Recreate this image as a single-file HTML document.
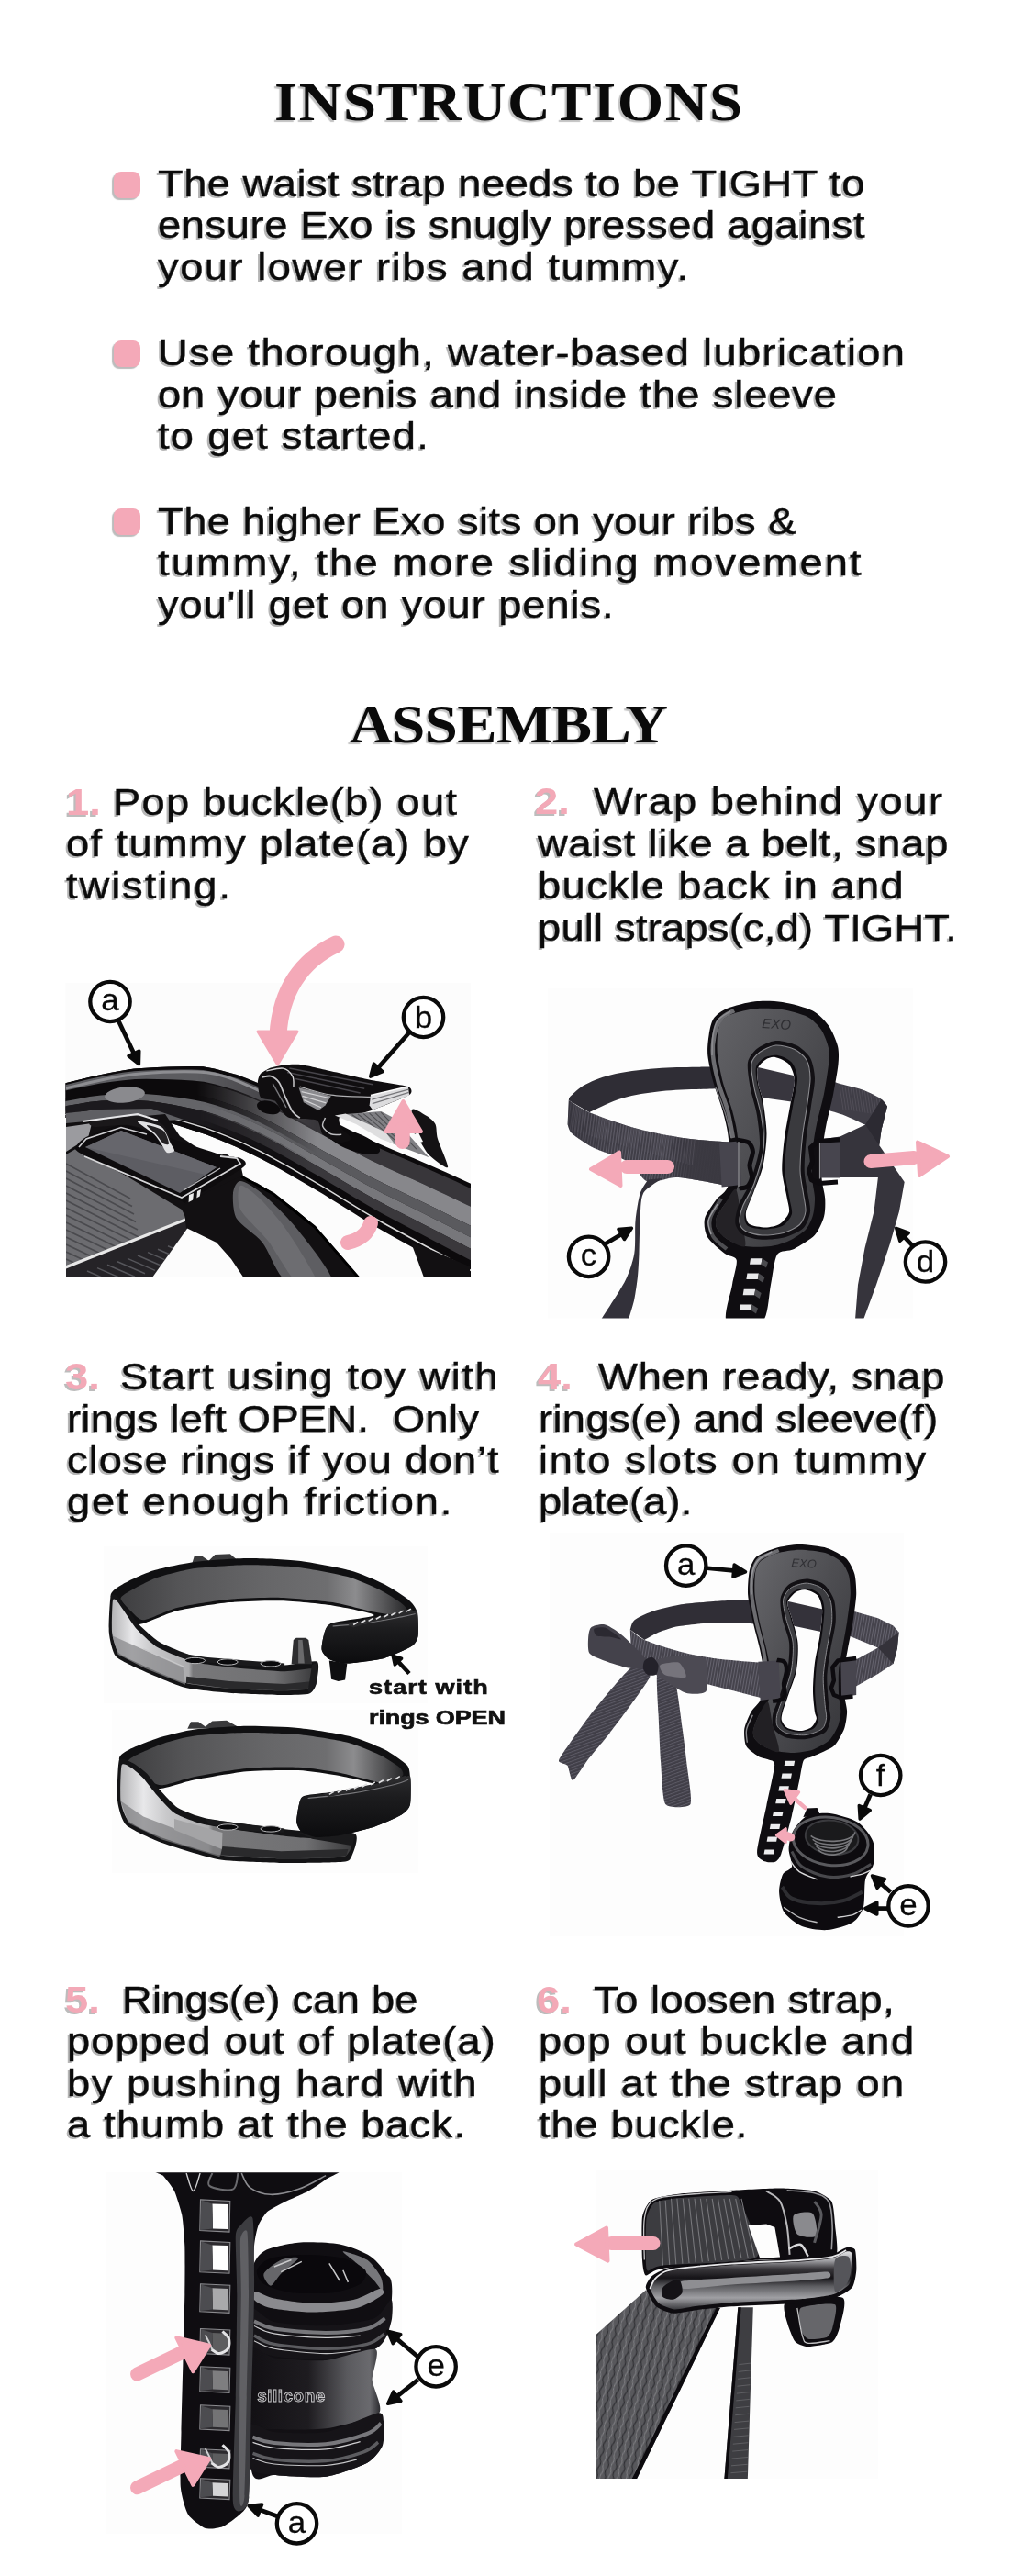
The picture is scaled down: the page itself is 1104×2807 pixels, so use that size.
<!DOCTYPE html>
<html lang="en"><head><meta charset="utf-8"><title>Instructions</title>
<style>
html,body{margin:0;padding:0;background:#fff;}
#pg{will-change:transform;position:relative;width:1104px;height:2807px;overflow:hidden;background:#fff;}
.ln{position:absolute;white-space:pre;line-height:1;transform-origin:0 0;color:#0b0b0b;}
.t{-webkit-text-stroke:0.35px #0b0b0b;font:400 40.5px/1 "Liberation Sans", sans-serif;text-shadow:-2.1px 2.1px 0.6px #b6b6b6;}
.n{font:700 40.5px/1 "Liberation Sans", sans-serif;color:#f3a9b7;text-shadow:-2.1px 2.1px 0.6px #bcbcbc;}
.s{font:700 22.5px/1 "Liberation Sans", sans-serif;color:#111;-webkit-text-stroke:0.7px #111;}
.h{font:700 60px/1 "Liberation Serif", serif;color:#0a0a0a;text-shadow:-2px 2px 1px #c2c2c2;}
.bl{position:absolute;width:29px;height:29px;border-radius:8px;background:#f4a9b8;box-shadow:-2px 2px 1px #bcbcbc;}
svg{position:absolute;left:0;top:0;}
</style></head>
<body><div id="pg">
<svg width="1104" height="2807" viewBox="0 0 1104 2807" font-family='"Liberation Sans", sans-serif'>
<g id="ill1">
<clipPath id="c1t"><path d="M72,1381L204,1329L206,1336L166,1392L72,1392Z"/></clipPath>
<clipPath id="c1s"><path d="M72,1258L86,1250L198,1318L204,1330L72,1381Z"/></clipPath>
<clipPath id="c1"><rect x="71.5" y="1071" width="441.5" height="320.5"/></clipPath>
<rect x="71.5" y="1071" width="441.5" height="320.5" fill="#fcfcfc"/>
<g clip-path="url(#c1)">
<path d="M449,1209C450.7,1206.3 461.6,1213.9 465,1216C468.4,1218.1 472.9,1221.7 474.5,1225C476.1,1228.3 475.2,1234.7 477,1241C478.8,1247.3 489.2,1269.6 488,1272C486.8,1274.4 471.9,1262.6 468,1259C464.1,1255.4 460.6,1248.1 458.5,1245C456.4,1241.9 453.3,1240.8 452,1236C450.7,1231.2 447.3,1211.7 449,1209Z" fill="#141214"/>
<path d="M449,1237L456,1234L461,1244L452,1247Z" fill="#fafafa"/>
<path d="M60,1183L72.2,1180L84.4,1176.9L96.6,1173.9L108.9,1171.2L121.2,1168.8L133.6,1166.4L146,1164.6L158.5,1163.7L171.1,1163.1L183.7,1162.6L196.3,1162.2L208.8,1162L221.3,1162.3L233.7,1164.5L246,1167.7L258.1,1171.1L269.9,1175.4L281.5,1180.2L292.9,1185.4L304.1,1191.1L315.2,1197L326.3,1203.1L337.4,1209L348.5,1214.8L359.8,1220.5L371,1226.1L382.2,1231.8L393.5,1237.3L404.9,1242.7L416.3,1247.8L427.9,1252.7L439.5,1257.5L451.2,1262.2L462.7,1267.2L474.2,1272.2L485.7,1277.3L497.2,1282.5L508.6,1287.7L520,1293L520,1398L508.6,1391.8L497.3,1385.6L486,1379.4L474.6,1373.1L463.3,1366.8L452,1360.6L440.6,1354.3L429.3,1348L418.1,1341.7L406.9,1335.2L395.8,1328.5L384.8,1321.6L373.9,1314.7L362.9,1307.9L351.9,1301.1L340.7,1294.5L329.6,1287.9L318.4,1281.4L307.1,1275L295.8,1268.8L284.4,1262.7L272.8,1256.9L261.1,1251.4L249.2,1246.3L237.3,1241.2L225.2,1236.5L213,1232.4L200.6,1228.4L188.2,1224.6L175.6,1221.1L163,1218.4L150.3,1216.7L137.4,1215.4L124.4,1214.4L111.5,1214L98.6,1214.6L85.8,1216.3L72.9,1217.9L60,1219Z" fill="#0c0a0c"/>
<path d="M60,1184.8L72.2,1181.9L84.5,1178.9L96.7,1175.9L109,1173.4L121.4,1171L133.8,1168.8L146.3,1167.2L158.7,1166.4L171.3,1166L183.9,1165.7L196.5,1165.5L209,1165.5L221.5,1166L233.9,1168.3L246.2,1171.6L258.2,1175.1L270,1179.5L281.7,1184.3L293.1,1189.6L304.3,1195.3L315.4,1201.2L326.4,1207.3L337.5,1213.3L348.7,1219.1L359.9,1224.8L371.1,1230.6L382.4,1236.3L393.6,1241.9L405,1247.3L416.4,1252.5L428,1257.5L439.6,1262.3L451.2,1267.2L462.7,1272.2L474.2,1277.3L485.7,1282.4L497.2,1287.6L508.6,1292.9L520,1298.2L520,1318.2L508.6,1312.7L497.2,1307.2L485.8,1301.8L474.3,1296.4L462.9,1291.1L451.4,1285.8L439.8,1280.7L428.2,1275.6L416.7,1270.3L405.4,1264.9L394.1,1259.2L382.8,1253.3L371.7,1247.4L360.5,1241.4L349.3,1235.5L338.2,1229.6L327.1,1223.4L316,1217.3L304.8,1211.2L293.6,1205.4L282.2,1200L270.6,1195L258.8,1190.4L246.8,1186.5L234.6,1182.9L222.2,1180.1L209.8,1178.9L197.3,1178.1L184.8,1177.5L172.2,1177L159.6,1176.8L147.1,1177.1L134.5,1178.2L122,1179.7L109.5,1181.5L97.1,1183.7L84.7,1186.4L72.4,1189.1L60,1191.6Z" fill="#38363a"/>
<path d="M60,1191.6L72.4,1189.1L84.7,1186.4L97.1,1183.7L109.5,1181.5L122,1179.7L134.5,1178.2L147.1,1177.1L159.6,1176.8L172.2,1177L184.8,1177.5L197.3,1178.1L209.8,1178.9L222.2,1180.1L234.6,1182.9L246.8,1186.5L258.8,1190.4L270.6,1195L282.2,1200L293.6,1205.4L304.8,1211.2L316,1217.3L327.1,1223.4L338.2,1229.6L349.3,1235.5L360.5,1241.4L371.7,1247.4L382.8,1253.3L394.1,1259.2L405.4,1264.9L416.7,1270.3L428.2,1275.6L439.8,1280.7L451.4,1285.8L462.9,1291.1L474.3,1296.4L485.8,1301.8L497.2,1307.2L508.6,1312.7L520,1318.2L520,1339.2L508.6,1333.5L497.2,1327.9L485.8,1322.2L474.4,1316.6L463,1311L451.5,1305.5L440,1300.1L428.5,1294.6L417.1,1289.1L405.8,1283.4L394.5,1277.4L383.4,1271.3L372.2,1265.1L361.1,1258.9L350,1252.8L338.8,1246.6L327.7,1240.4L316.6,1234.2L305.4,1228L294.2,1222.1L282.8,1216.5L271.2,1211.3L259.4,1206.4L247.4,1202.2L235.3,1198.3L223,1195L210.7,1193L198.2,1191.3L185.7,1189.9L173.1,1188.6L160.5,1187.8L147.9,1187.5L135.3,1188L122.6,1188.9L110,1190L97.5,1191.8L85,1194.2L72.5,1196.7L60,1198.8Z" fill="#87878b"/>
<path d="M60,1198.8L72.5,1196.7L85,1194.2L97.5,1191.8L110,1190L122.6,1188.9L135.3,1188L147.9,1187.5L160.5,1187.8L173.1,1188.6L185.7,1189.9L198.2,1191.3L210.7,1193L223,1195L235.3,1198.3L247.4,1202.2L259.4,1206.4L271.2,1211.3L282.8,1216.5L294.2,1222.1L305.4,1228L316.6,1234.2L327.7,1240.4L338.8,1246.6L350,1252.8L361.1,1258.9L372.2,1265.1L383.4,1271.3L394.5,1277.4L405.8,1283.4L417.1,1289.1L428.5,1294.6L440,1300.1L451.5,1305.5L463,1311L474.4,1316.6L485.8,1322.2L497.2,1327.9L508.6,1333.5L520,1339.2L520,1351.8L508.6,1346L497.2,1340.2L485.8,1334.5L474.4,1328.7L463,1323L451.6,1317.3L440.2,1311.7L428.7,1306.1L417.3,1300.4L406,1294.5L394.8,1288.4L383.7,1282.1L372.6,1275.8L361.5,1269.4L350.4,1263.1L339.3,1256.9L328.1,1250.6L317,1244.3L305.8,1238.1L294.5,1232.1L283.1,1226.4L271.5,1221.1L259.8,1216.1L247.8,1211.7L235.7,1207.5L223.5,1203.9L211.2,1201.4L198.7,1199.3L186.2,1197.3L173.6,1195.6L161,1194.3L148.4,1193.8L135.7,1193.8L123,1194.3L110.3,1195.2L97.7,1196.7L85.2,1199L72.6,1201.2L60,1203.2Z" fill="#5a5a5e"/>
<path d="M60,1203.2L72.6,1201.2L85.2,1199L97.7,1196.7L110.3,1195.2L123,1194.3L135.7,1193.8L148.4,1193.8L161,1194.3L173.6,1195.6L186.2,1197.3L198.7,1199.3L211.2,1201.4L223.5,1203.9L235.7,1207.5L247.8,1211.7L259.8,1216.1L271.5,1221.1L283.1,1226.4L294.5,1232.1L305.8,1238.1L317,1244.3L328.1,1250.6L339.3,1256.9L350.4,1263.1L361.5,1269.4L372.6,1275.8L383.7,1282.1L394.8,1288.4L406,1294.5L417.3,1300.4L428.7,1306.1L440.2,1311.7L451.6,1317.3L463,1323L474.4,1328.7L485.8,1334.5L497.2,1340.2L508.6,1346L520,1351.8L520,1364.4L508.6,1358.5L497.3,1352.6L485.9,1346.7L474.5,1340.8L463.1,1334.9L451.7,1329.1L440.3,1323.3L428.9,1317.5L417.5,1311.6L406.2,1305.6L395.1,1299.3L384,1292.9L372.9,1286.4L361.9,1279.9L350.8,1273.5L339.7,1267.2L328.5,1260.8L317.4,1254.4L306.2,1248.1L294.9,1242.1L283.5,1236.3L271.9,1230.9L260.1,1225.7L248.2,1221.1L236.1,1216.7L224,1212.8L211.7,1209.9L199.3,1207.2L186.7,1204.7L174.2,1202.6L161.6,1200.9L148.9,1200L136.2,1199.7L123.4,1199.8L110.7,1200.3L98,1201.6L85.3,1203.7L72.7,1205.8L60,1207.5Z" fill="#77777b"/>
<path d="M60,1207.5L72.7,1205.8L85.3,1203.7L98,1201.6L110.7,1200.3L123.4,1199.8L136.2,1199.7L148.9,1200L161.6,1200.9L174.2,1202.6L186.7,1204.7L199.3,1207.2L211.7,1209.9L224,1212.8L236.1,1216.7L248.2,1221.1L260.1,1225.7L271.9,1230.9L283.5,1236.3L294.9,1242.1L306.2,1248.1L317.4,1254.4L328.5,1260.8L339.7,1267.2L350.8,1273.5L361.9,1279.9L372.9,1286.4L384,1292.9L395.1,1299.3L406.2,1305.6L417.5,1311.6L428.9,1317.5L440.3,1323.3L451.7,1329.1L463.1,1334.9L474.5,1340.8L485.9,1346.7L497.3,1352.6L508.6,1358.5L520,1364.4L520,1377L508.6,1371L497.3,1365L485.9,1358.9L474.5,1352.9L463.2,1346.9L451.8,1340.9L440.4,1334.9L429,1329L417.7,1322.9L406.5,1316.7L395.4,1310.2L384.3,1303.7L373.3,1297L362.3,1290.4L351.2,1283.8L340.1,1277.4L328.9,1271L317.8,1264.5L306.5,1258.2L295.2,1252.1L283.8,1246.2L272.2,1240.6L260.5,1235.4L248.6,1230.5L236.6,1225.9L224.4,1221.7L212.2,1218.3L199.8,1215.2L187.3,1212.2L174.7,1209.5L162.1,1207.5L149.4,1206.3L136.6,1205.6L123.8,1205.3L111,1205.4L98.2,1206.5L85.5,1208.4L72.8,1210.3L60,1211.8Z" fill="#3a383c"/>
<path d="M60,1215.2L72.8,1213.9L85.6,1212.2L98.4,1210.4L111.2,1209.5L124.1,1209.6L137,1210.3L149.8,1211.2L162.5,1212.7L175.1,1215L187.7,1218.1L200.2,1221.5L212.6,1225L224.8,1228.7L236.9,1233.2L248.9,1238L260.8,1243L272.5,1248.4L284.1,1254.1L295.5,1260L306.8,1266.2L318.1,1272.6L329.2,1279L340.4,1285.5L351.5,1292L362.6,1298.7L373.6,1305.4L384.6,1312.2L395.6,1318.9L406.7,1325.5L417.9,1331.8L429.2,1338L440.5,1344.1L451.9,1350.2L463.2,1356.4L474.6,1362.5L485.9,1368.6L497.3,1374.8L508.6,1380.9L520,1387L520,1389.1L508.6,1383L497.3,1376.8L485.9,1370.7L474.6,1364.5L463.3,1358.4L451.9,1352.2L440.6,1346.1L429.2,1339.9L417.9,1333.7L406.7,1327.3L395.6,1320.7L384.6,1314L373.6,1307.2L362.6,1300.4L351.6,1293.8L340.5,1287.2L329.3,1280.7L318.1,1274.2L306.9,1267.9L295.6,1261.7L284.1,1255.7L272.6,1250L260.8,1244.6L249,1239.6L237,1234.7L224.9,1230.2L212.6,1226.4L200.3,1222.8L187.8,1219.3L175.2,1216.2L162.6,1213.8L149.9,1212.3L137.1,1211.3L124.2,1210.6L111.3,1210.4L98.5,1211.2L85.6,1212.9L72.8,1214.7L60,1215.9Z" fill="#d8d8d8"/>
<linearGradient id="g1m" x1="215" y1="0" x2="345" y2="0" gradientUnits="userSpaceOnUse"><stop offset="0" stop-color="#fff"/><stop offset="1" stop-color="#000"/></linearGradient>
<mask id="m1" maskUnits="userSpaceOnUse" x="60" y="1100" width="470" height="320"><rect x="60" y="1100" width="470" height="320" fill="url(#g1m)"/></mask>
<g mask="url(#m1)"><path d="M60,1183L72.2,1180L84.4,1176.9L96.6,1173.9L108.9,1171.2L121.2,1168.8L133.6,1166.4L146,1164.6L158.5,1163.7L171.1,1163.1L183.7,1162.6L196.3,1162.2L208.8,1162L221.3,1162.3L233.7,1164.5L246,1167.7L258.1,1171.1L269.9,1175.4L281.5,1180.2L292.9,1185.4L304.1,1191.1L315.2,1197L326.3,1203.1L337.4,1209L348.5,1214.8L359.8,1220.5L371,1226.1L382.2,1231.8L393.5,1237.3L404.9,1242.7L416.3,1247.8L427.9,1252.7L439.5,1257.5L451.2,1262.2L462.7,1267.2L474.2,1272.2L485.7,1277.3L497.2,1282.5L508.6,1287.7L520,1293L520,1398L508.6,1391.8L497.3,1385.6L486,1379.4L474.6,1373.1L463.3,1366.8L452,1360.6L440.6,1354.3L429.3,1348L418.1,1341.7L406.9,1335.2L395.8,1328.5L384.8,1321.6L373.9,1314.7L362.9,1307.9L351.9,1301.1L340.7,1294.5L329.6,1287.9L318.4,1281.4L307.1,1275L295.8,1268.8L284.4,1262.7L272.8,1256.9L261.1,1251.4L249.2,1246.3L237.3,1241.2L225.2,1236.5L213,1232.4L200.6,1228.4L188.2,1224.6L175.6,1221.1L163,1218.4L150.3,1216.7L137.4,1215.4L124.4,1214.4L111.5,1214L98.6,1214.6L85.8,1216.3L72.9,1217.9L60,1219Z" fill="#0c0a0c"/>
<path d="M60,1184.8L72.2,1181.9L84.5,1178.9L96.7,1175.9L109,1173.4L121.4,1171L133.8,1168.8L146.3,1167.2L158.7,1166.4L171.3,1166L183.9,1165.7L196.5,1165.5L209,1165.5L221.5,1166L233.9,1168.3L246.2,1171.6L258.2,1175.1L270,1179.5L281.7,1184.3L293.1,1189.6L304.3,1195.3L315.4,1201.2L326.4,1207.3L337.5,1213.3L348.7,1219.1L359.9,1224.8L371.1,1230.6L382.4,1236.3L393.6,1241.9L405,1247.3L416.4,1252.5L428,1257.5L439.6,1262.3L451.2,1267.2L462.7,1272.2L474.2,1277.3L485.7,1282.4L497.2,1287.6L508.6,1292.9L520,1298.2L520,1316.1L508.6,1310.6L497.2,1305.2L485.8,1299.8L474.3,1294.4L462.8,1289.1L451.3,1283.9L439.8,1278.8L428.2,1273.7L416.7,1268.4L405.3,1263L394,1257.4L382.8,1251.5L371.6,1245.6L360.4,1239.7L349.3,1233.8L338.1,1227.8L327,1221.7L315.9,1215.6L304.8,1209.5L293.5,1203.7L282.1,1198.4L270.5,1193.3L258.7,1188.7L246.7,1185L234.5,1181.4L222.2,1178.7L209.8,1177.5L197.3,1176.8L184.7,1176.2L172.1,1175.9L159.5,1175.7L147,1176L134.4,1177.2L121.9,1178.8L109.5,1180.6L97.1,1182.9L84.7,1185.6L72.3,1188.3L60,1190.9Z" fill="#5c5c60"/>
<path d="M60,1201.7L72.6,1199.7L85.1,1197.4L97.7,1195.1L110.2,1193.5L122.9,1192.5L135.6,1191.9L148.2,1191.7L160.8,1192.2L173.4,1193.3L186,1194.8L198.6,1196.6L211,1198.6L223.3,1200.9L235.6,1204.4L247.7,1208.5L259.6,1212.9L271.4,1217.8L283,1223.1L294.4,1228.7L305.7,1234.7L316.9,1240.9L328,1247.2L339.1,1253.5L350.3,1259.7L361.4,1265.9L372.5,1272.2L383.6,1278.5L394.7,1284.7L405.9,1290.8L417.2,1296.6L428.6,1302.3L440.1,1307.8L451.6,1313.4L463,1319L474.4,1324.7L485.8,1330.4L497.2,1336.1L508.6,1341.8L520,1347.6L520,1362.3L508.6,1356.4L497.2,1350.5L485.9,1344.7L474.5,1338.8L463.1,1333L451.7,1327.1L440.3,1321.4L428.8,1315.6L417.5,1309.8L406.2,1303.7L395,1297.5L383.9,1291.1L372.9,1284.6L361.8,1278.2L350.7,1271.8L339.6,1265.4L328.5,1259.1L317.3,1252.7L306.1,1246.5L294.8,1240.4L283.4,1234.7L271.8,1229.2L260.1,1224.1L248.1,1219.5L236.1,1215.1L223.9,1211.3L211.6,1208.4L199.2,1205.9L186.7,1203.5L174.1,1201.4L161.5,1199.8L148.8,1199L136.1,1198.8L123.3,1198.9L110.6,1199.5L97.9,1200.8L85.3,1202.9L72.7,1205L60,1206.8Z" fill="#646468"/>
<path d="M60,1206.8L72.7,1205L85.3,1202.9L97.9,1200.8L110.6,1199.5L123.3,1198.9L136.1,1198.8L148.8,1199L161.5,1199.8L174.1,1201.4L186.7,1203.5L199.2,1205.9L211.6,1208.4L223.9,1211.3L236.1,1215.1L248.1,1219.5L260.1,1224.1L271.8,1229.2L283.4,1234.7L294.8,1240.4L306.1,1246.5L317.3,1252.7L328.5,1259.1L339.6,1265.4L350.7,1271.8L361.8,1278.2L372.9,1284.6L383.9,1291.1L395,1297.5L406.2,1303.7L417.5,1309.8L428.8,1315.6L440.3,1321.4L451.7,1327.1L463.1,1333L474.5,1338.8L485.9,1344.7L497.2,1350.5L508.6,1356.4L520,1362.3L520,1385.4L508.6,1379.3L497.3,1373.2L485.9,1367.1L474.6,1361L463.2,1354.9L451.9,1348.8L440.5,1342.7L429.2,1336.6L417.9,1330.4L406.6,1324.1L395.5,1317.5L384.5,1310.8L373.5,1304.1L362.5,1297.4L351.5,1290.7L340.3,1284.2L329.2,1277.8L318,1271.3L306.8,1264.9L295.5,1258.8L284,1252.8L272.5,1247.2L260.7,1241.8L248.9,1236.8L236.9,1232L224.7,1227.6L212.5,1223.9L200.1,1220.5L187.6,1217.1L175.1,1214.2L162.4,1211.9L149.8,1210.5L136.9,1209.5L124.1,1209L111.2,1208.9L98.4,1209.8L85.6,1211.6L72.8,1213.4L60,1214.7Z" fill="#1c1a1e"/>
<path d="M60,1215.2L72.8,1213.9L85.6,1212.2L98.4,1210.4L111.2,1209.5L124.1,1209.6L137,1210.3L149.8,1211.2L162.5,1212.7L175.1,1215L187.7,1218.1L200.2,1221.5L212.6,1225L224.8,1228.7L236.9,1233.2L248.9,1238L260.8,1243L272.5,1248.4L284.1,1254.1L295.5,1260L306.8,1266.2L318.1,1272.6L329.2,1279L340.4,1285.5L351.5,1292L362.6,1298.7L373.6,1305.4L384.6,1312.2L395.6,1318.9L406.7,1325.5L417.9,1331.8L429.2,1338L440.5,1344.1L451.9,1350.2L463.2,1356.4L474.6,1362.5L485.9,1368.6L497.3,1374.8L508.6,1380.9L520,1387L520,1389.1L508.6,1383L497.3,1376.8L485.9,1370.7L474.6,1364.5L463.3,1358.4L451.9,1352.2L440.6,1346.1L429.2,1339.9L417.9,1333.7L406.7,1327.3L395.6,1320.7L384.6,1314L373.6,1307.2L362.6,1300.4L351.6,1293.8L340.5,1287.2L329.3,1280.7L318.1,1274.2L306.9,1267.9L295.6,1261.7L284.1,1255.7L272.6,1250L260.8,1244.6L249,1239.6L237,1234.7L224.9,1230.2L212.6,1226.4L200.3,1222.8L187.8,1219.3L175.2,1216.2L162.6,1213.8L149.9,1212.3L137.1,1211.3L124.2,1210.6L111.3,1210.4L98.5,1211.2L85.6,1212.9L72.8,1214.7L60,1215.9Z" fill="#d8d8d8"/></g>
<path d="M72,1186C78.3,1184.5 96.5,1179.7 110,1177C123.5,1174.3 135.5,1171.5 153,1170C170.5,1168.5 198.7,1167.2 215,1168C231.3,1168.8 238.5,1171 251,1175C263.5,1179 283.5,1189.2 290,1192" fill="none" stroke="#8d8d91" stroke-width="3"/>
<ellipse cx="136" cy="1193" rx="22" ry="8.5" fill="#8a8a8e" transform="rotate(-6 136 1193)"/>
<path d="M72,1213L110,1209L165,1208L200,1220L72,1226Z" fill="#5f5f63"/>
<path d="M72,1224L180,1214L196,1238L232,1262L246,1257L262,1268L266,1286L200,1330L72,1300Z" fill="#121012"/>
<path d="M72,1228L100,1224L96,1240L72,1255Z" fill="#9b9b9f"/>
<path d="M72,1258L86,1250L198,1318L204,1330L72,1381Z" fill="#6c6c70"/>
<path d="M72,1268 L142,1306M72,1276 L144,1314.5M72,1284 L146,1323M72,1292 L148,1331.5M72,1300 L150,1340M72,1308 L152,1348.5M72,1316 L154,1357M72,1324 L156,1365.5M72,1332 L158,1374M72,1340 L160,1382.5M72,1348 L162,1391M72,1356 L164,1399.5M72,1364 L166,1408M72,1372 L168,1416.5" stroke="#4a4a4e" stroke-width="1.6" fill="none" clip-path="url(#c1s)"/>
<path d="M72,1381L204,1329L206,1336L166,1392L72,1392Z" fill="#252327"/>
<path d="M72,1379L203,1327L204,1330L72,1382.5Z" fill="#e8e8e8"/>
<path d="M95,1385 L125,1398M106,1381.6 L136,1394.6M117,1378.2 L147,1391.2M128,1374.8 L158,1387.8M139,1371.4 L169,1384.4M150,1368 L180,1381M161,1364.6 L191,1377.6M172,1361.2 L202,1374.2M183,1357.8 L213,1370.8" stroke="#55555a" stroke-width="1.5" fill="none" clip-path="url(#c1t)"/>
<path d="M84,1248C84.7,1245.7 90.4,1240.6 96,1238C101.6,1235.4 124.5,1226.7 132,1226C139.5,1225.3 147.4,1228.3 160,1232C172.6,1235.7 228.1,1254.5 240,1258C251.9,1261.5 259.1,1260.4 262,1262C264.9,1263.6 271.6,1266.6 265,1272C258.4,1277.4 213.1,1303.8 205,1308C196.9,1312.2 209.4,1313.8 196,1308C182.6,1302.2 103.1,1265 90,1258C76.9,1251 83.3,1250.3 84,1248Z" fill="#0e0c0e"/>
<path d="M93,1250L132,1232L236,1272L196,1300Z" fill="#5d5d63"/>
<path d="M93,1250L132,1232L236,1272L224,1280Z" fill="#66666c"/>
<path d="M86,1250L94,1241L132,1228.5L160,1236" fill="none" stroke="#cfcfd2" stroke-width="1.6"/>
<path d="M92,1260L198,1305L262,1268L258,1262L240,1260" fill="none" stroke="#d6d6d8" stroke-width="1.8"/>
<path d="M200,1297L240,1273" fill="none" stroke="#bdbdc0" stroke-width="1.4"/>
<path d="M100,1222C106.1,1220.4 139.6,1215.5 150,1216C160.4,1216.5 173.2,1222 178,1226C182.8,1230 186,1242.8 186,1246C186,1249.2 180.8,1251.6 178,1250C175.2,1248.4 170.1,1237.2 165,1234C159.9,1230.8 148.1,1226.8 140,1226C131.9,1225.2 109.3,1228.5 104,1228C98.7,1227.5 93.9,1223.6 100,1222Z" fill="#1a181a"/>
<path d="M90,1222L150,1214L172,1221" fill="none" stroke="#e6e6e8" stroke-width="2.2"/>
<path d="M150,1222C151.1,1220.9 171.2,1224.8 176,1228C180.8,1231.2 184.1,1242.5 186,1246C187.9,1249.5 190.5,1252.7 190,1254C189.5,1255.3 183.9,1256.9 182,1256C180.1,1255.1 177.9,1249.7 176,1247C174.1,1244.3 171.5,1239.3 168,1236C164.5,1232.7 148.9,1223.1 150,1222Z" fill="#e2e2e4"/>
<path d="M160,1226C161.1,1225.5 174.8,1229.3 178,1232C181.2,1234.7 184,1244.1 184,1246C184,1247.9 179.9,1247.3 178,1246C176.1,1244.7 172.4,1238.7 170,1236C167.6,1233.3 158.9,1226.5 160,1226Z" fill="#242224"/>
<path d="M206,1302L211,1300L209,1318L205,1320Z" fill="#ededed"/>
<path d="M215,1298L219,1296L217,1308L214,1309Z" fill="#e4e4e4"/>
<path d="M200,1313L230,1297L262,1282L280,1289L298,1300L322,1318L343,1336L368,1364L395,1396L268,1396L252,1372L236,1354L203,1338Z" fill="#121012"/>
<path d="M262,1287C266.1,1287 277,1293.3 285,1300C293,1306.7 311.7,1324.2 322,1337C332.3,1349.8 363.3,1388.1 362,1396C360.7,1403.9 322.1,1401.6 312,1396C301.9,1390.4 293.2,1363.1 286,1354C278.8,1344.9 262.3,1335.2 258,1328C253.7,1320.8 253.5,1305.5 254,1300C254.5,1294.5 257.9,1287 262,1287Z" fill="#5e5e62"/>
<path d="M262,1292C264.8,1290.4 276.3,1299.6 283,1306C289.7,1312.4 303.7,1328 312,1340C320.3,1352 343.7,1388.5 345,1396C346.3,1403.5 329.1,1401.9 322,1396C314.9,1390.1 300,1362.4 292,1352C284,1341.6 266,1326 262,1318C258,1310 259.2,1293.6 262,1292Z" fill="#6d6d71"/>
<path d="M263,1282L298,1301L343,1337L394,1396" fill="none" stroke="#000" stroke-width="3"/>
<path d="M448,1354L462,1392L512,1392L512,1380L470,1362Z" fill="#121012"/>
<ellipse cx="385.8" cy="1244.2" rx="30" ry="10" fill="#0c0a0c" transform="rotate(20 385.8 1244.2)"/>
<ellipse cx="292.7" cy="1206.8" rx="13" ry="7" fill="#0c0a0c" transform="rotate(15 292.7 1206.8)"/>
<path d="M280.9,1179.5C280.9,1177 282.2,1172 283.6,1170.4C285,1168.8 292.3,1164.6 295,1163.6C297.7,1162.6 307.5,1160.6 310.9,1160.2C314.3,1159.9 323.6,1159.4 329,1160.2C334.5,1161 357.6,1166.5 365.4,1168.2C373.1,1169.9 398.3,1175.7 406.2,1177.2C414.2,1178.8 440.8,1182.5 444.8,1184.1C448.8,1185.6 450.1,1190.6 446.2,1193.1C442.3,1195.7 412.1,1207.3 406.2,1209.5C400.4,1211.6 391.7,1213.9 388.1,1214.7C384.4,1215.6 371.5,1216.6 369.9,1218.1C368.3,1219.6 370.8,1227.2 372.2,1229.5C373.5,1231.7 383.8,1239.2 383.5,1240.8C383.3,1242.4 373.1,1245.8 369.9,1245.4C366.7,1244.9 354.2,1238.7 351.7,1236.3C349.3,1233.8 349,1222.7 345.4,1220.8C341.8,1219 319.3,1219.3 315.4,1218.1C311.5,1217 307.9,1211.4 306.3,1209.5C304.7,1207.6 301.7,1200.9 299.5,1199.5C297.3,1198.1 285.9,1197.9 284.1,1195.9C282.2,1193.9 280.9,1182.1 280.9,1179.5Z" fill="#100e10"/>
<path d="M376.7,1214L415.3,1210.9L428.9,1218.1L467.5,1261.3L428.9,1246.5L397.2,1229.5Z" fill="#808084"/>
<path d="M383.5,1214.5 L415.3,1236.3M389.9,1214 L423,1239.5M396.2,1213.6 L430.8,1242.6M402.6,1213.1 L438.5,1245.8M409,1212.7 L446.2,1249M415.3,1212.2 L453.9,1252.2" fill="none" stroke="#4e4e52" stroke-width="1.1"/>
<path d="M364.9,1215.4L376.7,1213.6L419.9,1233.6L430.1,1246.5L415.3,1241.3L388.1,1224.9Z" fill="#dededf"/>
<path d="M325.6,1185.2L338.1,1188.1L360.8,1194.5L354.5,1204.5L347.2,1209.9L330.9,1201.3Z" fill="#8b8b8f"/>
<path d="M328.6,1189.7L358.6,1196.5M329.5,1194.3L355.4,1201.8M331.3,1198.6L349.9,1206.8" fill="none" stroke="#d4d4d6" stroke-width="1.2"/>
<path d="M315.4,1164.1L406.2,1181.8M313.1,1168.6L397.2,1186.3M322.2,1175.4L392.6,1190.9" fill="none" stroke="#46444a" stroke-width="1.5"/>
<path d="M326.8,1184.1C332.4,1185.6 348,1191.3 360.8,1193.1C373.7,1195 396.8,1195 404,1195.4" fill="none" stroke="#b0b0b3" stroke-width="1.2"/>
<path d="M285.9,1173.8C287.4,1173.7 291.9,1171.8 295,1172.7C298,1173.7 301.4,1175.7 304.1,1179.5C306.7,1183.3 308.4,1190.1 310.9,1195.4C313.3,1200.7 316.2,1207.5 318.8,1211.3C321.5,1215.1 325.4,1217 326.8,1218.1" fill="none" stroke="#c4c4c7" stroke-width="1.8"/>
<path d="M290.4,1167C293.5,1166.5 303.9,1163.1 308.6,1164.1C313.3,1165 316.9,1169.4 318.8,1172.7C320.7,1176 319.8,1182.2 320,1184.1" fill="none" stroke="#d5d5d7" stroke-width="1.4"/>
<path d="M297.2,1180.7C298.4,1182.7 301.6,1188.8 304.1,1193.1C306.5,1197.5 310.7,1204.5 312,1206.8" fill="none" stroke="#77777b" stroke-width="1.4"/>
<path d="M404,1193.6L444.8,1184.1L446.2,1193.6L406.2,1209.5L402.6,1204.5Z" fill="#dcdcde"/>
<path d="M405.3,1198.1L445.3,1187.2M405.8,1202.7L445.7,1190.4" fill="none" stroke="#77777b" stroke-width="1.3"/>
<path d="M404,1193.6L444.8,1184.1" fill="none" stroke="#fafafa" stroke-width="1.5"/>
<path d="M354.5,1218.1C354,1219.6 350.7,1224.3 351.7,1227.2C352.8,1230.2 357.4,1234.3 360.8,1235.8C364.2,1237.3 370.3,1236.2 372.2,1236.3" fill="none" stroke="#bcbcbf" stroke-width="1.5"/>
</g>
<path d="M366,1029 C330,1046 306,1078 303,1128" fill="none" stroke="#f4a9b8" stroke-width="19" stroke-linecap="round"/>
<path d="M281,1124L324,1124L302.5,1160Z" fill="#f4a9b8" stroke="#f4a9b8" stroke-width="3" stroke-linejoin="round"/>
<path d="M439.5,1200L459,1233L420.5,1233Z" fill="#f4a9b8" stroke="#f4a9b8" stroke-width="4" stroke-linejoin="round"/>
<path d="M438.7,1230 L438.7,1244" fill="none" stroke="#f4a9b8" stroke-width="16" stroke-linecap="round"/>
<path d="M404,1333 C401,1344 392,1351 379,1354" fill="none" stroke="#f4a9b8" stroke-width="16" stroke-linecap="round"/>
<path d="M129,1112 L146.8,1149.8" stroke="#0a0a0a" stroke-width="4.7" fill="none"/><path d="M151.4,1159.7L140,1150.7L151.8,1145.2Z" fill="#0a0a0a" stroke="#0a0a0a" stroke-width="3.5" stroke-linejoin="round"/>
<circle cx="120" cy="1091.5" r="21.7" fill="#fff" stroke="#0a0a0a" stroke-width="4.3"/><text transform="translate(120,1101.4) scale(1.06,1)" font-size="33" text-anchor="middle" fill="#0a0a0a" stroke="#0a0a0a" stroke-width="0.25">a</text>
<path d="M447,1124 L410.9,1164.9" stroke="#0a0a0a" stroke-width="4.7" fill="none"/><path d="M403.7,1173.1L407.4,1159.1L417.1,1167.7Z" fill="#0a0a0a" stroke="#0a0a0a" stroke-width="3.5" stroke-linejoin="round"/>
<circle cx="461.5" cy="1108.5" r="21.7" fill="#fff" stroke="#0a0a0a" stroke-width="4.3"/><text transform="translate(461.5,1119.9) scale(1.06,1)" font-size="33" text-anchor="middle" fill="#0a0a0a" stroke="#0a0a0a" stroke-width="0.25">b</text>
</g>
<g id="ill2">
<clipPath id="c2h"><path d="M825.5,1164.8C826.5,1161.2 831.7,1156.4 834.3,1154.7C836.9,1153 841.4,1151.3 844.8,1152C848.2,1152.7 857.1,1156.3 859.9,1159.7C862.7,1163.1 865.9,1171.2 866,1177.3C866.1,1183.4 862.5,1197 861,1205.4C859.5,1213.8 856.1,1231.1 854.9,1240.5C853.7,1249.9 852,1267.2 852.3,1275.6C852.6,1284 856.4,1297.6 857.4,1303.7C858.4,1309.8 860.9,1317 859.9,1321C858.9,1325 853.2,1331.6 849.8,1333.8C846.4,1336 838.7,1337.5 834.3,1337.5C829.9,1337.5 819.3,1336 816.5,1333.8C813.7,1331.6 812.3,1325.7 813,1321C813.7,1316.3 819,1305.4 821.5,1298.7C824,1292 829.6,1279 831.5,1270.6C833.4,1262.2 835.5,1244.9 835.5,1235.5C835.5,1226.1 832.7,1207.1 831.5,1200C830.3,1192.9 827.3,1186.7 826.5,1182C825.7,1177.3 824.5,1168.4 825.5,1164.8Z"/></clipPath>
<clipPath id="c2r"><path d="M900.5,1175.3C902.2,1176 907.7,1178.6 913,1180.3C918.4,1182 934.2,1185.5 940.6,1187.8C947,1190.2 957.2,1195.5 960.7,1197.9C964.2,1200.2 966.1,1204.4 966.9,1205.4L960.7,1230.5C958.3,1229.8 948.5,1227.5 943.1,1225.5C937.8,1223.4 926.2,1217.6 920.5,1215.4C914.9,1213.2 903.2,1210 900.5,1209.2Z"/></clipPath>
<clipPath id="c2f"><path d="M619.8,1199C623,1200.8 633.4,1208.5 643.6,1212.7C653.8,1216.9 682.6,1226.6 696.3,1230.3C710,1234 732.7,1238.3 746.5,1240.3C760.3,1242.3 792.9,1244.4 800,1245L800,1294C796.2,1293.2 780,1289.5 771.5,1288C763,1286.5 745.1,1283 736.4,1283C727.7,1283 712.5,1289.7 706.3,1288C700.1,1286.3 693.7,1273.3 690,1270C686.3,1266.7 684.6,1265.5 678.7,1262.9C672.8,1260.3 653.3,1254 646,1250.3C638.7,1246.6 627.3,1238.6 623.6,1235.3C619.9,1232 619.3,1226.6 618.6,1225.3Z"/></clipPath>
<clipPath id="c2"><rect x="597" y="1077" width="398" height="359.5"/></clipPath>
<rect x="597" y="1077" width="398" height="359.5" fill="#fdfdfd"/>
<linearGradient id="g2b" x1="0" y1="0" x2="1" y2="0"><stop offset="0" stop-color="#3a3840"/><stop offset=".5" stop-color="#4b4952"/><stop offset="1" stop-color="#35333b"/></linearGradient>
<linearGradient id="g2p" x1="0" y1="0" x2="1" y2="1"><stop offset="0" stop-color="#636367"/><stop offset=".5" stop-color="#4c4c50"/><stop offset="1" stop-color="#343438"/></linearGradient>
<pattern id="p2r" width="3" height="8" patternUnits="userSpaceOnUse" patternTransform="rotate(8)"><rect width="3" height="8" fill="#403e47"/><rect width="1" height="8" fill="#5d5b66"/></pattern>
<g clip-path="url(#c2)">
<path d="M790,1162C786.9,1162.1 782.9,1162.3 771.5,1162.6C760.1,1162.9 738.1,1162.6 721.4,1163.8C704.7,1165 685,1167.1 671.2,1170C657.4,1172.9 646.8,1177.4 638.6,1181.4C630.5,1185.4 625.4,1191.1 622.3,1194C619.2,1196.9 620.2,1198.2 619.8,1199L643.6,1212.7C644,1212.3 640.1,1212.9 646,1210.2C651.9,1207.5 666.1,1199.9 678.7,1196.4C691.3,1192.9 705.1,1190.7 721.4,1189C737.7,1187.3 765.1,1186.9 776.5,1186.4C787.9,1185.9 787.8,1186.1 790,1186Z" fill="#2f2d35"/>
<path d="M619.8,1199C623,1200.8 633.4,1208.5 643.6,1212.7C653.8,1216.9 682.6,1226.6 696.3,1230.3C710,1234 732.7,1238.3 746.5,1240.3C760.3,1242.3 792.9,1244.4 800,1245L800,1294C796.2,1293.2 780,1289.5 771.5,1288C763,1286.5 745.1,1283 736.4,1283C727.7,1283 712.5,1289.7 706.3,1288C700.1,1286.3 693.7,1273.3 690,1270C686.3,1266.7 684.6,1265.5 678.7,1262.9C672.8,1260.3 653.3,1254 646,1250.3C638.7,1246.6 627.3,1238.6 623.6,1235.3C619.9,1232 619.3,1226.6 618.6,1225.3Z" fill="url(#p2r)"/>
<linearGradient id="g2s" x1="619" y1="0" x2="800" y2="0" gradientUnits="userSpaceOnUse"><stop offset="0" stop-color="#2c2a32" stop-opacity=".5"/><stop offset=".25" stop-color="#2c2a32" stop-opacity="0"/><stop offset=".6" stop-color="#2c2a32" stop-opacity="0"/><stop offset=".75" stop-color="#3a3840" stop-opacity=".9"/><stop offset="1" stop-color="#3a3840" stop-opacity="1"/></linearGradient>
<path d="M619.8,1199C623,1200.8 633.4,1208.5 643.6,1212.7C653.8,1216.9 682.6,1226.6 696.3,1230.3C710,1234 732.7,1238.3 746.5,1240.3C760.3,1242.3 792.9,1244.4 800,1245L800,1294C796.2,1293.2 780,1289.5 771.5,1288C763,1286.5 745.1,1283 736.4,1283C727.7,1283 712.5,1289.7 706.3,1288C700.1,1286.3 693.7,1273.3 690,1270C686.3,1266.7 684.6,1265.5 678.7,1262.9C672.8,1260.3 653.3,1254 646,1250.3C638.7,1246.6 627.3,1238.6 623.6,1235.3C619.9,1232 619.3,1226.6 618.6,1225.3Z" fill="url(#g2s)"/>
<path d="M626,1204 l-3,28M629.2,1204.9 l-3,28M632.4,1205.9 l-3,28M635.6,1206.8 l-3,28M638.8,1207.7 l-3,28M642,1208.7 l-3,28M645.2,1209.6 l-3,28M648.4,1210.5 l-3,28M651.6,1211.4 l-3,28M654.8,1212.4 l-3,28M658,1213.3 l-3,28M661.2,1214.2 l-3,28M664.4,1215.2 l-3,28M667.6,1216.1 l-3,28M670.8,1217 l-3,28M674,1218 l-3,28M677.2,1218.9 l-3,28M680.4,1219.8 l-3,28M683.6,1220.7 l-3,28M686.8,1221.7 l-3,28M690,1222.6 l-3,28M693.2,1223.5 l-3,28M696.4,1224.5 l-3,28M699.6,1225.4 l-3,28M702.8,1226.3 l-3,28M706,1227.2 l-3,28M709.2,1228.2 l-3,28M712.4,1229.1 l-3,28M715.6,1230 l-3,28M718.8,1231 l-3,28M722,1231.9 l-3,28M725.2,1232.8 l-3,28M728.4,1233.8 l-3,28M731.6,1234.7 l-3,28M734.8,1235.6 l-3,28M738,1236.5 l-3,28M741.2,1237.5 l-3,28M744.4,1238.4 l-3,28M747.6,1239.3 l-3,28M750.8,1240.3 l-3,28M754,1241.2 l-3,28M757.2,1242.1 l-3,28" stroke="#5b5963" stroke-width="1" fill="none" opacity=".6" clip-path="url(#c2f)"/>
<path d="M706.3,1285.4C705.1,1287.4 699.4,1294.5 697.6,1300.5C695.8,1306.5 693.3,1321.9 692.5,1330.6C691.7,1339.3 692.8,1357 691.3,1365.7C689.8,1374.4 686.1,1386.2 681.3,1395.8C676.5,1405.4 658.5,1432.4 655,1438L685,1438C685.8,1435 690,1422.1 691.3,1415.8C692.6,1409.5 694.3,1397.5 695,1390.8C695.7,1384.1 696.2,1373.7 696.5,1365.7C696.8,1357.7 697,1339.3 697.6,1330.6C698.2,1321.9 697.7,1306.7 701,1300.5C704.3,1294.3 719.2,1286.2 722,1284Z" fill="#33313a"/>
<path d="M900.5,1175.3C902.2,1176 907.7,1178.6 913,1180.3C918.4,1182 934.2,1185.5 940.6,1187.8C947,1190.2 957.2,1195.5 960.7,1197.9C964.2,1200.2 966.1,1204.4 966.9,1205.4L960.7,1230.5C958.3,1229.8 948.5,1227.5 943.1,1225.5C937.8,1223.4 926.2,1217.6 920.5,1215.4C914.9,1213.2 903.2,1210 900.5,1209.2Z" fill="#403e47"/>
<path d="M915,1183 l4,26M918,1183.5 l4,26M921,1183.9 l4,26M924,1184.3 l4,26M927,1184.8 l4,26M930,1185.2 l4,26M933,1185.7 l4,26M936,1186.2 l4,26M939,1186.6 l4,26M942,1187 l4,26M945,1187.5 l4,26M948,1188 l4,26M951,1188.4 l4,26M954,1188.8 l4,26M957,1189.3 l4,26" stroke="#5b5963" stroke-width="1" fill="none" opacity=".6" clip-path="url(#c2r)"/>
<path d="M966.9,1205.4L960.7,1230.5L958.2,1248L985.7,1288.1L980,1320L970,1355L955,1400L941,1438L932,1438L935,1400L942.5,1360L952.5,1320L956.9,1283.1L915.5,1283.1L893,1283.1L893,1241.8L915.5,1238.5L943.1,1225.5L960.7,1197.9Z" fill="#36343c"/>
<path d="M966.9,1205.4L960.7,1230.5L958.2,1248L943.1,1225.5L960.7,1197.9Z" fill="#2c2a32"/>
<path d="M772.6,1127.7C773.4,1122.4 774.9,1113.9 777.6,1110C780.3,1106.1 786.7,1101.3 792.7,1098.8C798.7,1096.3 814.7,1092.2 822.7,1091.3C830.7,1090.4 844.4,1090.7 852.8,1092C861.2,1093.3 878.7,1097.9 885.4,1101.3C892.1,1104.7 899.3,1112.4 903,1117.6C906.7,1122.8 911.6,1134.3 913,1140C914.4,1145.7 914.2,1152.9 913.5,1160C912.8,1167.1 909.7,1184.2 908,1192.9C906.3,1201.6 902,1217.8 900.5,1225.5C899,1233.2 897.4,1242.8 896.7,1250.5C896,1258.2 895.2,1275.6 895.5,1283C895.8,1290.4 898.9,1300 899.2,1305.7C899.5,1311.4 899.5,1320.5 898,1325.8C896.5,1331.1 892.3,1341.1 888,1345.8C883.7,1350.5 870.9,1358.1 865.4,1360.9C859.9,1363.7 850.4,1361.8 847,1367C843.6,1372.2 842.1,1390.3 840,1400C837.9,1409.7 837.4,1434.7 831,1440C824.6,1445.3 796.4,1445.3 792,1440C787.6,1434.7 796.6,1408.9 798,1400C799.4,1391.1 803.8,1377.5 802.7,1373C801.6,1368.5 794.2,1369.3 790,1366C785.8,1362.7 773.9,1353.1 771,1348C768.1,1342.9 766.8,1333.3 768,1328C769.2,1322.7 776.5,1313 780,1308C783.5,1303 792.1,1299.6 794,1290.6C795.9,1281.6 794.8,1251.2 793.9,1240.5C793,1229.8 789.8,1218.5 787.6,1210.4C785.4,1202.3 779.8,1188.1 777.6,1180C775.4,1171.9 772,1157 771.3,1150C770.6,1143 771.8,1133 772.6,1127.7Z" fill="#0f0d11"/>
<path d="M782,1128C782.5,1123.1 783.9,1116.1 786,1113C788.1,1109.9 792.9,1106.9 798,1105C803.1,1103.1 816.8,1099.7 824,1099C831.2,1098.3 844.5,1098.8 852,1100C859.5,1101.2 874.3,1105.1 880,1108C885.7,1110.9 891.9,1117.5 895,1122C898.1,1126.5 901.9,1136.9 903,1142C904.1,1147.1 903.7,1153.3 903,1160C902.3,1166.7 899.7,1183.3 898,1192C896.3,1200.7 891.6,1217.3 890,1225C888.4,1232.7 886.7,1242.3 886,1250C885.3,1257.7 884.7,1275.7 885,1283C885.3,1290.3 887.9,1299.5 888,1305C888.1,1310.5 887.3,1319.3 886,1324C884.7,1328.7 881.5,1336.3 878,1340C874.5,1343.7 865.1,1349.6 860,1352C854.9,1354.4 846.4,1357.2 840,1358C833.6,1358.8 818.4,1359.1 812,1358C805.6,1356.9 796.1,1352.7 792,1350C787.9,1347.3 782.5,1341.2 781,1338C779.5,1334.8 779.8,1329.5 781,1326C782.2,1322.5 786.9,1316.5 790,1312C793.1,1307.5 802.1,1301.6 804,1292C805.9,1282.4 804.8,1250.9 804,1240C803.2,1229.1 800.1,1218 798,1210C795.9,1202 790.1,1188 788,1180C785.9,1172 782.8,1156.9 782,1150C781.2,1143.1 781.5,1132.9 782,1128Z" fill="url(#g2p)"/>
<path d="M781,1326C782.2,1322.5 787.2,1316 790,1312C792.8,1308 799.6,1293.6 802,1296C804.4,1298.4 806.7,1321.7 808,1330C809.3,1338.3 814.1,1355.3 812,1358C809.9,1360.7 796.1,1352.7 792,1350C787.9,1347.3 782.5,1341.2 781,1338C779.5,1334.8 779.8,1329.5 781,1326Z" fill="#242226"/>
<path d="M800,1101C797.7,1102.5 789.6,1105.5 786,1110C782.4,1114.5 780,1121.3 778.5,1128C777,1134.7 776.2,1141.3 777,1150C777.8,1158.7 780.3,1170 783,1180C785.7,1190 790.3,1200 793,1210C795.7,1220 798,1235 799,1240" fill="none" stroke="#6c6c70" stroke-width="4.5"/>
<path d="M786,1306C784,1309.7 775.5,1321.2 774,1328C772.5,1334.8 774,1341.5 777,1347C780,1352.5 789.5,1358.7 792,1361" fill="none" stroke="#4e4e52" stroke-width="4"/>
<path d="M776,1150C776.2,1146.3 776,1134.3 777,1128C778,1121.7 778.8,1116.3 782,1112C785.2,1107.7 793.7,1103.7 796,1102" fill="none" stroke="#8c8c90" stroke-width="1.6"/>
<path d="M780,1185C781.7,1189.5 787.2,1202.8 790,1212C792.8,1221.2 795.8,1235.3 797,1240" fill="none" stroke="#77777b" stroke-width="1.4"/>
<path d="M775,1345C774.5,1342.5 770.8,1335.5 772,1330C773.2,1324.5 780.3,1315 782,1312" fill="none" stroke="#9a9a9e" stroke-width="1.5"/>
<path d="M815,1157.7C816,1152 821,1145.9 825,1142.7C829,1139.5 839.6,1134.5 845.3,1134C851,1133.5 863,1136.5 868,1139C873,1141.5 880.3,1147.9 883,1152.7C885.7,1157.5 887.9,1168.3 888,1175.3C888.1,1182.3 885.2,1196.6 884,1205C882.8,1213.4 880,1228.6 879,1238C878,1247.4 876.5,1267.2 876.7,1275.6C876.9,1284 879.6,1294.7 880.4,1300.7C881.2,1306.7 883.7,1315.7 883,1320.7C882.3,1325.7 879.1,1334.6 875.4,1338.3C871.7,1342 861.3,1346.6 855.3,1348.3C849.3,1350 836.3,1351.1 830.3,1350.8C824.3,1350.5 813.9,1348.1 810,1345.8C806.1,1343.5 802.1,1337.7 801.4,1333.3C800.7,1328.9 802.8,1319 805,1313C807.2,1307 814.7,1296.3 817.7,1288C820.7,1279.7 826.8,1260.2 827.8,1250.5C828.8,1240.8 826.3,1224.1 825,1215.4C823.7,1206.7 819,1193 817.7,1185.3C816.4,1177.6 814,1163.4 815,1157.7Z" fill="#121014"/>
<path d="M819,1159C819.8,1153.8 824.5,1149.2 828,1146.5C831.5,1143.8 840.4,1139.4 845.5,1139C850.6,1138.6 861.5,1141.4 866,1143.5C870.5,1145.6 876.7,1150.8 879,1155C881.3,1159.2 882.9,1168.6 883,1175.3C883.1,1182 880.6,1196.6 879.5,1205C878.4,1213.4 875.5,1228.6 874.5,1238C873.5,1247.4 871.9,1267.2 872,1275.6C872.1,1284 874.7,1294.8 875.5,1300.7C876.3,1306.6 878.5,1315.5 878,1320C877.5,1324.5 874.7,1331.4 871.5,1334.5C868.3,1337.6 859.5,1342 854,1343.5C848.5,1345 836,1346.3 830.5,1346C825,1345.7 815.8,1343.4 812.5,1341.5C809.2,1339.6 806.4,1335.6 806,1332C805.6,1328.4 807.4,1320.2 809.5,1314.5C811.6,1308.8 819,1298 822,1289.5C825,1281 831.3,1260.4 832.3,1250.5C833.3,1240.6 830.9,1224.1 829.5,1215.4C828.1,1206.7 823.4,1192.8 822,1185.3C820.6,1177.8 818.2,1164.2 819,1159Z" fill="#3a3a3e"/>
<path d="M819,1159C819.8,1153.8 824.5,1149.2 828,1146.5C831.5,1143.8 840.4,1139.4 845.5,1139C850.6,1138.6 861.5,1141.4 866,1143.5C870.5,1145.6 876.7,1150.8 879,1155C881.3,1159.2 882.9,1168.6 883,1175.3C883.1,1182 880.6,1196.6 879.5,1205C878.4,1213.4 875.5,1228.6 874.5,1238C873.5,1247.4 871.9,1267.2 872,1275.6C872.1,1284 874.7,1294.8 875.5,1300.7C876.3,1306.6 878.5,1315.5 878,1320C877.5,1324.5 874.7,1331.4 871.5,1334.5C868.3,1337.6 859.5,1342 854,1343.5C848.5,1345 836,1346.3 830.5,1346C825,1345.7 815.8,1343.4 812.5,1341.5C809.2,1339.6 806.4,1335.6 806,1332C805.6,1328.4 807.4,1320.2 809.5,1314.5C811.6,1308.8 819,1298 822,1289.5C825,1281 831.3,1260.4 832.3,1250.5C833.3,1240.6 830.9,1224.1 829.5,1215.4C828.1,1206.7 823.4,1192.8 822,1185.3C820.6,1177.8 818.2,1164.2 819,1159Z" fill="none" stroke="#8a8a8e" stroke-width="1.1"/>
<path d="M824,1162.8C825,1159.2 829.6,1154.4 832.8,1152.7C836,1151 843.8,1149.3 847.8,1150C851.8,1150.7 860.1,1154.3 862.9,1157.7C865.7,1161.1 868.9,1168.9 869,1175.3C869.1,1181.7 865.5,1196.7 864,1205.4C862.5,1214.1 859.1,1231.1 857.9,1240.5C856.7,1249.9 855,1266.9 855.3,1275.6C855.6,1284.3 859.4,1299.4 860.4,1305.7C861.4,1312 863.9,1319 862.9,1323C861.9,1327 856.8,1333.6 852.8,1335.8C848.8,1338 837.8,1339.5 832.8,1339.5C827.8,1339.5 817.8,1338 815,1335.8C812.2,1333.6 810.8,1327.7 811.5,1323C812.2,1318.3 817.5,1307.7 820,1300.7C822.5,1293.7 828.1,1279.3 830,1270.6C831.9,1261.9 834,1244.9 834,1235.5C834,1226.1 831.2,1207.4 830,1200C828.8,1192.6 825.8,1185 825,1180C824.2,1175 823,1166.4 824,1162.8Z" fill="#0c0a0e"/>
<path d="M825.5,1164.8C826.5,1161.2 831.7,1156.4 834.3,1154.7C836.9,1153 841.4,1151.3 844.8,1152C848.2,1152.7 857.1,1156.3 859.9,1159.7C862.7,1163.1 865.9,1171.2 866,1177.3C866.1,1183.4 862.5,1197 861,1205.4C859.5,1213.8 856.1,1231.1 854.9,1240.5C853.7,1249.9 852,1267.2 852.3,1275.6C852.6,1284 856.4,1297.6 857.4,1303.7C858.4,1309.8 860.9,1317 859.9,1321C858.9,1325 853.2,1331.6 849.8,1333.8C846.4,1336 838.7,1337.5 834.3,1337.5C829.9,1337.5 819.3,1336 816.5,1333.8C813.7,1331.6 812.3,1325.7 813,1321C813.7,1316.3 819,1305.4 821.5,1298.7C824,1292 829.6,1279 831.5,1270.6C833.4,1262.2 835.5,1244.9 835.5,1235.5C835.5,1226.1 832.7,1207.1 831.5,1200C830.3,1192.9 827.3,1186.7 826.5,1182C825.7,1177.3 824.5,1168.4 825.5,1164.8Z" fill="#fdfdfd"/>
<g clip-path="url(#c2h)"><path d="M820.2,1161.5L870.4,1173.3L870.4,1201.6L822.7,1194.9Z" fill="#38363e"/></g>
<text x="846" y="1121" font-size="15" font-style="italic" text-anchor="middle" fill="#2e2e32" transform="rotate(4 846 1118)">EXO</text>
<path d="M784,1245.3L806,1243.5L808,1291L786.6,1293.5Z" fill="#47454e"/>
<path d="M803,1242C804.7,1242.4 813.7,1243.3 816,1245C818.3,1246.7 820.4,1251.7 820.5,1255C820.6,1258.3 817.1,1266.3 817,1270C816.9,1273.7 819.8,1279.9 819.5,1283C819.2,1286.1 816.4,1291.4 814.5,1293C812.6,1294.6 806.7,1294.7 805.5,1295" fill="none" stroke="#0d0b0f" stroke-width="5"/>
<path d="M805,1244L805,1293" fill="none" stroke="#8f8f93" stroke-width="1.2"/>
<path d="M894.2,1245L915.5,1244.5L915.5,1283.6L894.2,1283.6Z" fill="#47454e"/>
<path d="M915.5,1241.8L891.7,1243.5L883.4,1250.5L885.4,1265.6L881.7,1275.6L884.2,1285.6L893,1289.4L913,1288.1" fill="none" stroke="#0d0b0f" stroke-width="5" stroke-linejoin="round"/>
<path d="M893.5,1245.5L893.5,1284.4" fill="none" stroke="#8f8f93" stroke-width="1.2"/>
<path d="M818,1371.3L830.5,1371.3L829.5,1377.7L817,1377.7Z" fill="#e9e9eb"/>
<path d="M830.5,1371.3L837,1375.5L835,1381.5L829.5,1377.7Z" fill="#4a4a4e"/>
<path d="M814.4,1387.5L826.9,1387.5L825.9,1393.9L813.4,1393.9Z" fill="#e9e9eb"/>
<path d="M826.9,1387.5L833.4,1391.7L831.4,1397.7L825.9,1393.9Z" fill="#4a4a4e"/>
<path d="M810.7,1404.8L823.2,1404.8L822.2,1411.2L809.7,1411.2Z" fill="#e9e9eb"/>
<path d="M823.2,1404.8L829.7,1409L827.7,1415L822.2,1411.2Z" fill="#4a4a4e"/>
<path d="M807,1421.4L819.5,1421.4L818.5,1427.8L806,1427.8Z" fill="#e9e9eb"/>
<path d="M819.5,1421.4L826,1425.6L824,1431.6L818.5,1427.8Z" fill="#4a4a4e"/>
</g>
<path d="M683,1271.5 L727.5,1271.5" fill="none" stroke="#f4a9b8" stroke-width="15" stroke-linecap="round"/>
<path d="M644,1274L675,1255.5L676.5,1292Z" fill="#f4a9b8" stroke="#f4a9b8" stroke-width="4" stroke-linejoin="round"/>
<path d="M949,1265.5 L996,1261.5" fill="none" stroke="#f4a9b8" stroke-width="15" stroke-linecap="round"/>
<path d="M1033,1260L1000,1244.5L1002,1281Z" fill="#f4a9b8" stroke="#f4a9b8" stroke-width="4" stroke-linejoin="round"/>
<path d="M657,1357 L678.9,1343.9" stroke="#0a0a0a" stroke-width="4.7" fill="none"/><path d="M688.4,1338.3L680.5,1350.5L673.9,1339.4Z" fill="#0a0a0a" stroke="#0a0a0a" stroke-width="3.5" stroke-linejoin="round"/>
<circle cx="641.6" cy="1369.4" r="21.7" fill="#fff" stroke="#0a0a0a" stroke-width="4.3"/><text transform="translate(641.6,1379.3) scale(1.06,1)" font-size="33" text-anchor="middle" fill="#0a0a0a" stroke="#0a0a0a" stroke-width="0.25">c</text>
<path d="M996,1359 L984.2,1346.4" stroke="#0a0a0a" stroke-width="4.7" fill="none"/><path d="M976.7,1338.3L990.3,1343.4L980.8,1352.3Z" fill="#0a0a0a" stroke="#0a0a0a" stroke-width="3.5" stroke-linejoin="round"/>
<circle cx="1008.5" cy="1375" r="21.7" fill="#fff" stroke="#0a0a0a" stroke-width="4.3"/><text transform="translate(1008.5,1386.4) scale(1.06,1)" font-size="33" text-anchor="middle" fill="#0a0a0a" stroke="#0a0a0a" stroke-width="0.25">d</text>
</g>
<g id="ill3">
<rect x="113" y="1685" width="353" height="171" fill="#fdfdfd"/><rect x="122" y="1863" width="334" height="178" fill="#fdfdfd"/>
<linearGradient id="g3w" x1="0" y1="0" x2="1" y2="0"><stop offset="0" stop-color="#3e3e40"/><stop offset=".2" stop-color="#545456"/><stop offset=".5" stop-color="#666668"/><stop offset=".72" stop-color="#6e6e70"/><stop offset=".82" stop-color="#8c8c8e"/><stop offset=".93" stop-color="#505052"/><stop offset="1" stop-color="#262628"/></linearGradient>
<linearGradient id="g3f" x1="0" y1="0" x2="1" y2="0"><stop offset="0" stop-color="#b4b4b6"/><stop offset=".1" stop-color="#e8e8ea"/><stop offset=".2" stop-color="#c8c8ca"/><stop offset=".38" stop-color="#aaaaac"/><stop offset=".4" stop-color="#78787a"/><stop offset=".8" stop-color="#707072"/><stop offset="1" stop-color="#3a3a3c"/></linearGradient>
<linearGradient id="g3r" x1="0" y1="0" x2="0" y2="1"><stop offset="0" stop-color="#2c2c2e"/><stop offset=".35" stop-color="#1c1c1e"/><stop offset="1" stop-color="#0c0c0e"/></linearGradient>
<path d="M209.5,1703L211.8,1695.5L220,1695.5L227.5,1700.8L234.3,1694L250.8,1693.3L260.5,1701.5Z" fill="#3a3a3c"/>
<path d="M120.6,1739.4C119.8,1734.5 128.3,1729.5 133.8,1726.3C139.2,1723 158.3,1714.1 167.5,1711.3C176.7,1708.4 200.7,1703.4 212.5,1701.9C224.3,1700.4 255.7,1698.3 268.8,1698.1C281.9,1698 311.9,1699.2 325.1,1700.8C338.2,1702.3 370.4,1708.3 381.3,1711.3C392.3,1714.2 411.4,1722.5 418.8,1726.3C426.3,1730 440.9,1739.6 445.1,1743.1C449.2,1746.6 453.2,1751.7 454.5,1756.3C455.7,1760.9 456.2,1778.2 455.6,1782.5C454.9,1786.9 453.1,1790.9 448.8,1793.8C444.5,1796.6 427.1,1804.7 418.8,1806.9C410.5,1809.1 384.6,1812.4 377.6,1812.5C370.6,1812.7 362,1809.8 358.8,1808C355.7,1806.3 351.1,1801.2 350.6,1797.5C350,1793.9 352.9,1780.3 354.3,1776.9C355.7,1773.5 356.4,1770.2 362.6,1768.3C368.8,1766.3 407.6,1762.2 407.6,1760C407.6,1757.8 374.4,1751.4 362.6,1749.5C350.8,1747.7 319.4,1744.7 306.3,1744.3C293.2,1743.9 263.2,1744.9 250,1746.1C236.9,1747.4 204.7,1752.5 193.8,1755.1C182.8,1757.8 162.4,1767.5 156.3,1769C150.1,1770.6 145.4,1771.7 141.3,1768.3C137.1,1764.8 121.5,1744.3 120.6,1739.4Z" fill="#101012"/>
<path d="M131.5,1742C131.4,1739.3 138,1735.7 142.8,1733C147.5,1730.3 163.9,1721.6 172,1718.8C180.2,1716 201.2,1710.6 212.5,1709C223.8,1707.4 255.7,1705.4 268.8,1705.3C281.9,1705.1 312.2,1706.4 325.1,1707.9C337.9,1709.4 368.4,1715.2 378.7,1718C389,1720.9 406.8,1728.9 413.6,1732.3C420.4,1735.6 433.3,1743.9 436.8,1746.5C440.3,1749.1 444.4,1753.3 443.6,1754.8C442.8,1756.3 434.3,1759.1 430.1,1759.3C425.9,1759.5 415.5,1758.2 407.6,1756.6C399.7,1755.1 374.4,1748 362.6,1746.1C350.8,1744.3 319.4,1741.3 306.3,1740.9C293.2,1740.5 263.2,1741.5 250,1742.8C236.9,1744 204.6,1749.1 193.8,1751.8C182.9,1754.4 162.9,1764.7 157,1765.3C151.2,1765.8 146.5,1759 143.5,1756.3C140.5,1753.6 131.6,1744.7 131.5,1742Z" fill="url(#g3w)"/>
<path d="M362.6,1769.4C367.1,1768.3 392.6,1766.7 400.1,1765.6C407.6,1764.6 432.1,1759.9 437.6,1758.9C443,1757.9 452.7,1753.2 454.5,1755.5C456.3,1757.9 456.2,1778.7 455.6,1782.5C455,1786.4 452.5,1791.3 448.8,1793.8C445.2,1796.2 426,1805 418.8,1806.9C411.7,1808.8 383.6,1812.4 377.6,1812.5C371.6,1812.6 361.5,1809.5 358.8,1808C356.1,1806.5 351,1800.6 350.6,1797.5C350.1,1794.4 353.1,1779.7 354.3,1776.9C355.5,1774.1 358,1770.5 362.6,1769.4Z" fill="url(#g3r)"/>
<path d="M362.6,1772C368.8,1771.4 387.6,1770 400.1,1768.3C412.6,1766.6 428.8,1763.5 437.6,1761.9C446.3,1760.3 450.1,1759.1 452.6,1758.5" fill="none" stroke="#77777a" stroke-width="1.2"/>
<path d="M379.4,1770.5L400.1,1763.8L426.3,1759.3L448.8,1753.3L450.7,1757L430.1,1762.3L403.8,1767.5L385.1,1773.5Z" fill="#2a2a2c"/>
<path d="M385.1,1770.5 l5,-3M393.3,1768.5 l5,-3M401.6,1766.4 l5,-3M409.8,1764.3 l5,-3M418.1,1762.3 l5,-3M426.3,1760.2 l5,-3M434.6,1758.1 l5,-3M442.8,1756.1 l5,-3" fill="none" stroke="#e0e0e2" stroke-width="1.6"/>
<path d="M358.8,1809.5L378.3,1812.5L376.1,1830.5L368.6,1832L361.1,1829.8Z" fill="#0e0e10"/>
<path d="M120.6,1739.4C121.6,1735.5 126.1,1737.7 128.1,1739.4C130.2,1741.1 138.8,1753.1 141.3,1756.3C143.7,1759.5 149.1,1767.9 152.5,1771.3C155.9,1774.7 169,1786.7 175,1790C181,1793.4 204.3,1803 212.5,1805C220.8,1807.1 247.8,1809.7 257.5,1810.7C267.3,1811.6 301.2,1814.4 310.1,1814.4C318.9,1814.4 342.2,1808.6 345.7,1810.7C349.1,1812.7 345.4,1831.6 344.6,1835C343.7,1838.5 340.9,1844.3 337.1,1845.5C333.2,1846.7 315,1847.1 306.3,1847C297.6,1847 260.5,1845.6 250,1844.8C239.5,1844 210.7,1841.2 201.3,1838.8C191.9,1836.4 163.8,1824.2 156.3,1820.8C148.8,1817.4 130,1809.2 126.3,1805C122.5,1800.8 119.3,1785.3 118.8,1778.8C118.2,1772.2 119.7,1743.3 120.6,1739.4Z" fill="#141416"/>
<path d="M122.9,1744.3C123.4,1740.9 126.2,1743.4 127.8,1745C129.3,1746.6 136.1,1756.9 138.3,1760C140.4,1763.1 146.1,1772.3 149.5,1775.8C152.9,1779.3 165.9,1791.8 172,1795.3C178.2,1798.8 202.5,1808.8 211,1811C219.6,1813.2 247.6,1816.4 257.5,1817.4C267.4,1818.4 301.7,1821.1 310.1,1821.2C318.5,1821.3 338.5,1817.4 341.6,1818.5C344.6,1819.7 341.1,1830.6 340.4,1832.8C339.8,1835 338.2,1839.7 334.8,1840.7C331.4,1841.6 314.8,1842.2 306.3,1842.2C297.8,1842.1 260.4,1840.7 250,1839.9C239.7,1839.1 211.9,1836.3 202.8,1833.9C193.6,1831.5 165.8,1819.2 158.5,1815.9C151.2,1812.6 133.3,1805 129.6,1801.3C126,1797.6 122.8,1784.5 122.1,1778.8C121.5,1773.1 122.3,1747.6 122.9,1744.3Z" fill="url(#g3f)"/>
<path d="M122.5,1782.5L156.3,1797.5L199.4,1817L202,1835.8L157.8,1817.8L128.5,1802.8Z" fill="#8a8a8c" opacity=".75"/>
<path d="M156.3,1796.8L200.5,1816.3" fill="none" stroke="#c8c8ca" stroke-width="1.2"/>
<path d="M203.2,1826.8L250,1832L310.1,1835L341.9,1832L340.4,1832.8L334.8,1840.7L306.3,1842.2L250,1839.9L202.8,1833.9Z" fill="#2a2a2c"/>
<path d="M195.6,1801.3L223.8,1805.8L268.8,1809.5L310.1,1812.5L310.1,1817L265,1814.8L220,1811L193.8,1805Z" fill="#1a1a1c"/>
<ellipse cx="212.5" cy="1809.5" rx="11" ry="3.2" fill="#0a0a0c" stroke="#b8b8ba" stroke-width="1"/>
<ellipse cx="248.2" cy="1811" rx="11" ry="3.2" fill="#0a0a0c" stroke="#b8b8ba" stroke-width="1"/>
<ellipse cx="295" cy="1812.8" rx="11" ry="3.2" fill="#0a0a0c" stroke="#b8b8ba" stroke-width="1"/>
<path d="M319.8,1787L322.8,1784.8L333.3,1784.8L336.3,1787L340.1,1813.3L317.6,1813.3Z" fill="#2e2e30"/>
<path d="M325.1,1787L329.6,1787L331.8,1812.5L325.1,1812.5Z" fill="#6a6a6c"/>
<path d="M340.1,1814L345.7,1811.8L344.6,1835L337.8,1844.8L335.6,1842.5Z" fill="#1c1c1e"/>
<path d="M204.3,1883.8L208,1876.3L216.3,1876.3L223.8,1881.5L231.3,1875.5L247,1874.8L262,1883Z" fill="#3a3a3c"/>
<path d="M130,1917.5C128.7,1913.1 136,1909.1 141.3,1906.3C146.5,1903.4 166.7,1895.7 175,1893.1C183.3,1890.6 201.6,1886 212.5,1884.5C223.5,1883.1 255.7,1880.9 268.8,1880.8C281.9,1880.6 311.9,1881.7 325.1,1883C338.2,1884.3 370.4,1889.3 381.3,1892C392.3,1894.7 411.6,1902.6 418.8,1906.3C426.1,1909.9 439.9,1919.6 443.2,1923.1C446.5,1926.6 446.5,1931.2 447,1936.3C447.4,1941.3 448.1,1961.5 447,1966.3C445.9,1971.1 442.2,1974.7 437.6,1977.5C433,1980.4 415.5,1988 407.6,1990.7C399.7,1993.3 377.5,1998.7 370.1,2000C362.6,2001.4 348.6,2002.4 343.8,2001.9C339,2001.5 331.2,1998.3 328.8,1996.3C326.4,1994.3 323.4,1989 323.2,1985C323,1981.1 325.6,1965.9 326.9,1962.5C328.2,1959.2 327.7,1957.6 334.4,1956.2C341.2,1954.8 376.1,1951.8 385.1,1950.5C394,1949.3 413.1,1947.1 411.3,1945.3C409.6,1943.5 380.1,1937 370.1,1935.1C360,1933.3 336.9,1929.7 325.1,1929.1C313.2,1928.6 281.9,1929.1 268.8,1930.3C255.7,1931.5 223.5,1937.1 212.5,1939.3C201.6,1941.5 182,1948.4 175,1949C168,1949.6 157.8,1948.2 152.5,1944.5C147.3,1940.8 131.3,1922 130,1917.5Z" fill="#101012"/>
<path d="M139.8,1920.5C138.7,1917.7 144.3,1914.7 148.8,1912.3C153.2,1909.9 170.6,1902.3 178,1899.9C185.5,1897.5 201.9,1893 212.5,1891.6C223.1,1890.2 255.7,1888.1 268.8,1887.9C281.9,1887.7 312.2,1888.9 325.1,1890.1C337.9,1891.4 368.4,1896.2 378.7,1898.8C389,1901.3 407,1909.1 413.6,1912.3C420.2,1915.4 432.4,1923.2 435.3,1925.8C438.3,1928.4 440.2,1932.4 439.1,1934.4C437.9,1936.4 428.8,1942.1 425.6,1943C422.3,1943.9 417.8,1943.2 411.3,1941.9C404.9,1940.6 380.1,1933.7 370.1,1931.8C360,1929.9 336.9,1926.3 325.1,1925.8C313.2,1925.2 281.9,1925.7 268.8,1926.9C255.7,1928.1 223.4,1933.8 212.5,1935.9C201.7,1938 182.2,1945.2 175.8,1945.3C169.4,1945.3 162,1939.2 157.8,1936.3C153.6,1933.4 140.8,1923.3 139.8,1920.5Z" fill="url(#g3w)"/>
<path d="M130,1917.5C131.7,1913.4 142,1919.8 145,1921.3C148,1922.8 157,1929.5 160,1932.5C163,1935.5 171.6,1947.5 175,1951.3C178.4,1955 188.9,1967 193.8,1970C198.6,1973 215.2,1979.3 223.8,1981.3C232.4,1983.2 269.9,1988.2 280,1989.5C290.2,1990.9 314.4,1993.9 325.1,1994.8C335.7,1995.6 381.3,1995 386.9,1998.2C392.6,2001.3 383.8,2023.2 381.3,2026.3C378.9,2029.4 370.1,2028.9 362.6,2029.3C355.1,2029.7 318.7,2030.3 306.3,2030C293.9,2029.7 251.9,2028.5 238.8,2026.3C225.7,2024 185.1,2011.3 175,2007.5C164.9,2003.8 142.2,1993.3 137.5,1988.8C132.8,1984.3 128.9,1969.7 128.1,1962.5C127.4,1955.4 128.3,1921.6 130,1917.5Z" fill="#141416"/>
<path d="M132.6,1923.5C133.8,1919.9 141.1,1925.1 143.5,1926.5C145.9,1927.9 153.5,1934.8 156.3,1937.8C159,1940.8 167.8,1952.7 171.3,1956.5C174.7,1960.4 185.7,1972.9 190.8,1976C195.9,1979.2 213.4,1985.9 222.3,1988C231.2,1990.1 269.8,1995.6 280,1997C290.3,1998.5 314.9,2001.4 325.1,2002.3C335.3,2003.2 376.8,2003.7 382.1,2005.7C387.3,2007.6 379.5,2019.9 377.6,2021.8C375.6,2023.7 369.7,2024.1 362.6,2024.4C355.4,2024.8 318.5,2025.5 306.3,2025.2C294.1,2024.9 253.2,2023.7 240.3,2021.4C227.4,2019.2 187.2,2006.3 177.3,2002.7C167.3,1999 145.5,1989 140.9,1985C136.3,1981 132.3,1968.7 131.5,1962.5C130.7,1956.4 131.4,1927.1 132.6,1923.5Z" fill="url(#g3f)"/>
<path d="M131.5,1962.5L156.3,1979.4L190,1992.5L241.8,2006.8L239.5,2023.3L176.5,2004.5L139.8,1986.5Z" fill="#7e7e80" opacity=".7"/>
<path d="M190,1982L242.5,1997L241.8,2015L190,1994Z" fill="#a4a4a6"/>
<path d="M223.8,1982L276.3,1988.8L310.1,1992.5L310.1,1997L265,1994.8L227.5,1988Z" fill="#1a1a1c"/>
<ellipse cx="248.2" cy="1991" rx="11" ry="3.2" fill="#0a0a0c" stroke="#b8b8ba" stroke-width="1"/>
<ellipse cx="295" cy="1992.9" rx="11" ry="3.2" fill="#0a0a0c" stroke="#b8b8ba" stroke-width="1"/>
<path d="M242.5,2012L306.3,2017.3L379.4,2015L377.6,2021.8L362.6,2024.4L306.3,2025.2L240.3,2021.4Z" fill="#2a2a2c"/>
<path d="M325.1,1997L386.9,1998.5L384.3,2011.3L362.6,2007.5L340.1,2003.8Z" fill="#1a1a1c"/>
<path d="M334.4,1956.9C340.2,1955.8 375.5,1952.8 385.1,1951.3C394.6,1949.8 423.9,1943.5 430.1,1941.9C436.3,1940.3 445.3,1933.1 447,1935.5C448.6,1938 447.9,1962.1 447,1966.3C446,1970.5 441.5,1975.1 437.6,1977.5C433.6,1980 414.3,1988.4 407.6,1990.7C400.8,1992.9 376.4,1998.9 370.1,2000C363.7,2001.2 347.9,2002.3 343.8,2001.9C339.7,2001.5 330.9,1998 328.8,1996.3C326.7,1994.6 323.4,1988.4 323.2,1985C323,1981.7 325.8,1965.3 326.9,1962.5C328.1,1959.7 328.6,1958 334.4,1956.9Z" fill="url(#g3r)"/>
<path d="M335.6,1959.5C343.8,1958.6 369.3,1956.4 385.1,1953.9C400.8,1951.4 420.1,1947 430.1,1944.5C440.1,1942.1 442.6,1940.1 445.1,1939.3" fill="none" stroke="#77777a" stroke-width="1.2"/>
<path d="M351.3,1955L385.1,1948.3L418.8,1941.9L442.1,1934.8L443.6,1938.5L422.6,1944.5L388.8,1951.3L358.8,1958Z" fill="#2a2a2c"/>
<path d="M358.8,1955.4 l5,-3M367.8,1953.3 l5,-3M376.8,1951.2 l5,-3M385.8,1949.1 l5,-3M394.8,1947 l5,-3M403.8,1944.9 l5,-3M412.8,1942.8 l5,-3M421.8,1940.7 l5,-3M430.8,1938.6 l5,-3" fill="none" stroke="#e0e0e2" stroke-width="1.6"/>
<path d="M446,1823.5 L432.6,1809.1" stroke="#0a0a0a" stroke-width="4.5" fill="none"/><path d="M428.2,1804.3L437.6,1807.2L430.3,1814Z" fill="#0a0a0a" stroke="#0a0a0a" stroke-width="3.5" stroke-linejoin="round"/>
</g>
<g id="ill4">
<clipPath id="c4h"><path d="M858.3,1746.5C858.8,1742.7 864.3,1737.2 866.9,1735.3C869.4,1733.4 874.2,1731.9 877.4,1732.3C880.6,1732.7 888.4,1735.4 890.9,1738.3C893.4,1741.2 895.8,1748.1 896.1,1754C896.5,1759.9 894.6,1774.7 893.5,1782.5C892.4,1790.3 888.9,1804.5 887.9,1812.5C886.9,1820.5 886,1835.5 886,1842.5C886,1849.5 887.4,1861 887.9,1865C888.4,1869.1 890.3,1870.6 889.8,1872.9C889.3,1875.2 886.4,1880.6 884.1,1882.3C881.8,1884.1 876,1886 872.5,1886.1C869.1,1886.2 861,1884.6 858.3,1883.1C855.5,1881.6 852.6,1877.2 851.9,1874.8C851.2,1872.4 852,1868.8 853,1865C854,1861.2 857.4,1852.3 859.4,1846.3C861.4,1840.3 866.7,1827.5 868,1820C869.4,1812.5 870.2,1797.5 869.5,1790C868.9,1782.5 864.6,1769.6 863.1,1763.8C861.6,1758 857.8,1750.3 858.3,1746.5Z"/></clipPath>
<rect x="599" y="1670" width="386" height="440" fill="#fdfdfd"/>
<linearGradient id="g4p" x1="0" y1="0" x2="1" y2="1"><stop offset="0" stop-color="#68686c"/><stop offset=".45" stop-color="#4e4e52"/><stop offset="1" stop-color="#343438"/></linearGradient>
<linearGradient id="g4b" x1="0" y1="0" x2="1" y2="0"><stop offset="0" stop-color="#3c3a42"/><stop offset=".5" stop-color="#4d4b54"/><stop offset="1" stop-color="#3a3840"/></linearGradient>
<pattern id="p4r" width="3" height="8" patternUnits="userSpaceOnUse" patternTransform="rotate(10)"><rect width="3" height="8" fill="#45434c"/><rect width="1" height="8" fill="#65636e"/></pattern>
<pattern id="p4t" width="8" height="3.2" patternUnits="userSpaceOnUse" patternTransform="rotate(-20)"><rect width="8" height="3.2" fill="#403e47"/><rect width="8" height="1" fill="#5c5a65"/></pattern>
<path d="M830.1,1743.1C828.3,1743.1 823.9,1742.9 816.9,1743.1C809.9,1743.4 787.8,1744.3 777.5,1745C767.3,1745.8 749,1747.3 740,1748.8C731,1750.3 716.5,1754 710,1756.3C703.5,1758.5 694.4,1763 691.3,1765.6C688.2,1768.2 687.4,1774.4 686.8,1775.8L702.5,1787C704.5,1785.9 712.5,1780.8 717.5,1778.8C722.5,1776.8 732,1773.4 740,1772C748,1770.6 766.5,1768.6 777.5,1768.3C788.5,1767.9 815.6,1769.2 822.6,1769.4C829.6,1769.5 829.1,1769.4 830.1,1769.4Z" fill="#302e36"/>
<path d="M686.8,1775.8C688.9,1777.3 695.4,1783.9 702.5,1787C709.6,1790.2 730,1796.8 740,1799.4C750,1802.1 765.5,1805.3 777.5,1806.9C789.5,1808.6 823.1,1811.1 830.1,1811.8L831.9,1850.8C827.7,1849.7 808.3,1844.6 800.1,1842.5C791.8,1840.4 778,1837 770,1835C762,1833 748,1829.9 740,1827.5C732,1825.1 716.3,1820.5 710,1817C703.8,1813.5 696.2,1804.4 693.2,1801.3C690.2,1798.2 688.3,1794.8 687.5,1793.8Z" fill="url(#p4r)"/>
<path d="M688.6,1816.5C685,1818.8 671.2,1834.9 666.7,1840.1C662.2,1845.3 648,1862.7 643.6,1868.3C639.3,1874 626.6,1891.6 623.1,1896.6C619.6,1901.6 609.4,1915.7 609,1918.4C608.5,1921.1 616.9,1921.6 618.5,1923.8C620,1926 622.1,1940.9 624.4,1940.2C626.6,1939.5 637.1,1922.2 641.1,1917.1C645,1912 659.5,1894.8 664.2,1888.9C668.8,1883 682.9,1864.2 687.3,1858.1C691.7,1851.9 706.8,1831.4 708.3,1827.3C709.9,1823.2 704.6,1818.1 702.7,1817C700.7,1815.9 692.1,1814.2 688.6,1816.5Z" fill="url(#p4t)"/>
<path d="M716,1826C715.2,1830.3 717.1,1859 717.6,1868.3C718,1877.7 719.4,1909.9 720.1,1919.7C720.9,1929.4 722,1961.3 725.3,1965.9C728.5,1970.5 750.1,1970 752.5,1965.9C754.8,1961.8 749.7,1933 748.9,1924.8C748,1916.6 745,1892.7 743.7,1883.7C742.5,1874.8 738.3,1841.4 736.6,1835.5C734.8,1829.6 727.8,1825.7 725.8,1824.7C723.7,1823.8 716.8,1821.6 716,1826Z" fill="url(#p4t)"/>
<path d="M644.1,1773.4C646.2,1771.7 655.2,1769.4 659,1770.3C662.9,1771.2 671.9,1776.9 677,1781.1C682.1,1785.3 699.3,1802 702.7,1806.2C706,1810.5 707.8,1816.2 705.7,1817.5C703.7,1818.8 690.2,1818.4 684.7,1817.5C679.3,1816.6 664,1811.7 659,1809.8C654.1,1808 644.4,1804.5 642.4,1801.6C640.3,1798.7 640.9,1788.2 641.1,1784.9C641.3,1781.6 642.1,1775.1 644.1,1773.4Z" fill="#44424b"/>
<path d="M647.5,1774.7C648.7,1773.7 656.9,1772.5 660.3,1773.9C663.8,1775.2 676.6,1785.1 677,1786.2C677.5,1787.3 667.3,1784.1 664.2,1783.6C661,1783.2 652,1783.4 650.1,1782.4C648.1,1781.3 646.3,1775.6 647.5,1774.7Z" fill="#2b2931"/>
<path d="M712.3,1809.5C715.7,1807.6 733.6,1804.6 740,1804.3C746.4,1803.9 763.5,1804.7 767,1806.5C770.6,1808.4 770.5,1815.7 770.8,1820C771.1,1824.3 772,1840.4 769.3,1843.3C766.6,1846.2 753.1,1846.5 747.5,1844.8C741.9,1843.1 725.6,1831.8 721.3,1829C717,1826.2 711.8,1823.1 710.8,1820.8C709.7,1818.5 708.9,1811.5 712.3,1809.5Z" fill="#4c4a53"/>
<path d="M719.4,1814.4C721.2,1812.8 736.8,1810.3 740,1811.8C743.3,1813.3 749.3,1826 747.5,1827.5C745.8,1829.1 728.3,1826.8 725,1825.3C721.8,1823.8 717.7,1816 719.4,1814.4Z" fill="#76747c"/>
<path d="M702.5,1809.5C703.8,1807.8 708.8,1805.2 710.8,1805.8C712.8,1806.4 716.9,1811.5 717.5,1814C718.1,1816.5 716.8,1823 715.3,1824.5C713.8,1826 708.2,1826.1 706.3,1825.3C704.4,1824.5 701.5,1820.6 701,1818.5C700.5,1816.4 701.2,1811.2 702.5,1809.5Z" fill="#24222a"/>
<path d="M912.7,1752.1L932,1756.3L956.9,1763.2L973.5,1771.5L979.6,1778.4L977.9,1796.3L973.5,1812.9L956.9,1824L933.4,1837.2L918.2,1846.1L918.2,1810.2L934.8,1807.4L956.9,1795.5L926.5,1783.1L912.7,1779.2Z" fill="url(#p4r)"/>
<path d="M956.9,1795.5L979.6,1778.4L977.9,1796.3L973.5,1812.9Z" fill="#34323a"/>
<path d="M816.9,1711.3C818,1706.4 821.2,1699.1 824.4,1696.3C827.7,1693.4 839.6,1688.4 845.1,1686.9C850.5,1685.3 864.8,1683.1 871.3,1683.1C877.9,1683.1 895.4,1685.1 901.3,1686.9C907.2,1688.6 918.5,1694.8 922,1698.1C925.5,1701.4 930,1710.4 931.3,1715C932.6,1719.6 933.4,1731.4 933.2,1737.5C933,1743.6 930.6,1760.5 929.5,1767.5C928.4,1774.5 924.9,1791.4 923.8,1797.5C922.7,1803.7 920.5,1814.3 920.1,1820C919.6,1825.7 919.7,1841 920.1,1846.3C920.4,1851.5 923.1,1860.7 923.1,1865C923.1,1869.4 921.7,1879.4 920.1,1883.8C918.4,1888.2 912.8,1899.1 908.8,1902.6C904.9,1906.1 890.2,1912 886.3,1913.8C882.5,1915.6 877.6,1915.2 875.8,1918.3C874.1,1921.4 872.7,1933 871.2,1940.1C869.7,1947.1 865.2,1969.4 862.9,1978.8C860.6,1988.1 853.5,2014.3 851.3,2020.2C849.1,2026.1 846.4,2028.2 844.1,2029.1C841.8,2029.9 833.6,2028.8 831.4,2027.4C829.2,2026 824.6,2024.4 825.1,2017.5C825.5,2010.5 833.1,1978.7 835.3,1967.7C837.5,1956.7 843.9,1929.3 844.1,1923.5C844.4,1917.6 839.6,1918.7 837.6,1917.6C835.5,1916.4 829.2,1915.6 826.3,1913.8C823.5,1912.1 814.9,1906.1 813.2,1902.6C811.4,1899.1 810.6,1888.2 811.3,1883.8C812,1879.4 816.6,1869 818.8,1865C821,1861.1 828.5,1855.3 830.1,1850C831.6,1844.8 832.2,1826.2 831.9,1820C831.7,1813.9 829.5,1803.7 828.2,1797.5C826.9,1791.4 822.2,1774.5 820.7,1767.5C819.2,1760.5 815.5,1744.1 815.1,1737.5C814.6,1731 815.8,1716.1 816.9,1711.3Z" fill="#0f0d11"/>
<path d="M823.3,1712.8C824.1,1708.5 826.6,1703.1 829.3,1700.8C832,1698.4 841.7,1693.9 846.6,1692.5C851.5,1691.1 865.2,1688.8 871.3,1688.8C877.4,1688.7 893.7,1690.6 899.1,1692.1C904.4,1693.7 914.1,1699.4 917.1,1702.3C920.1,1705.1 923.8,1712.4 925,1716.5C926.1,1720.6 927.1,1731.6 926.8,1737.5C926.6,1743.5 924.1,1760.5 923.1,1767.5C922,1774.5 918.9,1791.4 917.8,1797.5C916.8,1803.7 914.5,1814.3 914.1,1820C913.6,1825.7 913.8,1841 914.1,1846.3C914.3,1851.5 916.4,1861 916.3,1865C916.2,1869.1 914.8,1877.1 913.3,1880.8C911.8,1884.5 906.9,1893.5 903.6,1896.6C900.3,1899.6 889.5,1905.5 884.8,1907.1C880.2,1908.6 868.5,1910 863.8,1910.1C859.2,1910.1 849,1908.8 845.1,1907.8C841.1,1906.8 832.8,1903.5 830.1,1901.8C827.3,1900.1 822.9,1895.6 821.8,1893.6C820.8,1891.5 820.4,1887.4 821.1,1884.6C821.7,1881.7 825.1,1872.6 827.1,1868.8C829,1865 836.2,1858 837.6,1852.3C839,1846.6 839.3,1826.4 839.1,1820C838.8,1813.6 836.6,1803.7 835.3,1797.5C834,1791.4 829.3,1774.5 827.8,1767.5C826.3,1760.5 823.1,1743.9 822.6,1737.5C822,1731.1 822.5,1717 823.3,1712.8Z" fill="url(#g4p)"/>
<path d="M821.1,1884.6C821.8,1881.3 825,1872.8 827.1,1868.8C829.2,1864.8 834.8,1853 836.8,1854.5C838.8,1856 840.5,1872.9 842.1,1880.1C843.7,1887.3 850.4,1905.7 848.8,1908.6C847.2,1911.5 833.7,1903.8 830.1,1901.8C826.5,1899.8 823,1895.9 821.8,1893.6C820.6,1891.3 820.4,1887.9 821.1,1884.6Z" fill="#222024"/>
<path d="M848.8,1689.5C845.3,1691 832.6,1694.4 827.8,1698.5C823.1,1702.6 821.7,1707.8 820.3,1714.3C818.9,1720.8 818.5,1728.6 819.2,1737.5C819.9,1746.4 822.3,1757.5 824.4,1767.5C826.6,1777.5 830.1,1788.8 831.9,1797.5C833.7,1806.3 834.7,1816.3 835.3,1820" fill="none" stroke="#6c6c70" stroke-width="4"/>
<path d="M818.8,1737.5C818.9,1733.8 818.3,1721.3 819.6,1715C820.8,1708.8 822.7,1704 826.3,1700C829.9,1696 838.8,1692.5 841.3,1691" fill="none" stroke="#9a9a9e" stroke-width="1.5"/>
<path d="M814.3,1898.8C814.2,1896.4 812.6,1889.6 813.6,1884.6C814.6,1879.6 819.2,1871.4 820.3,1868.8" fill="none" stroke="#8a8a8e" stroke-width="1.4"/>
<path d="M850.7,1741.3C851.7,1736.3 856.3,1729 860.1,1726.3C863.8,1723.5 873.8,1720.6 878.8,1720.6C883.8,1720.6 893.6,1723.3 897.6,1726.3C901.6,1729.3 907.1,1737.6 908.8,1743.1C910.6,1748.6 911.2,1760.3 910.7,1767.5C910.2,1774.8 906.3,1789.5 905.1,1797.5C903.8,1805.5 901.6,1819.5 901.3,1827.5C901.1,1835.5 902.7,1851.5 903.2,1857.5C903.7,1863.5 905.6,1868.5 905.1,1872.6C904.6,1876.6 903,1884.6 899.5,1887.6C896,1890.6 884.6,1894.3 878.8,1895.1C873.1,1895.8 861.1,1894.7 856.3,1893.2C851.6,1891.7 845.1,1887.1 843.2,1883.8C841.3,1880.6 841.3,1873.3 842.1,1868.8C842.8,1864.3 846.7,1856.5 848.8,1850C851,1843.5 856.7,1828 858.2,1820C859.7,1812 860.8,1797.5 860.1,1790C859.3,1782.5 853.8,1770.3 852.6,1763.8C851.3,1757.3 849.7,1746.3 850.7,1741.3Z" fill="#121014"/>
<path d="M853.7,1742.8C854.4,1738.3 859,1732.4 862.3,1730C865.7,1727.7 874.4,1725.1 878.8,1725.1C883.2,1725.2 891.8,1727.8 895.3,1730.4C898.8,1732.9 903.6,1739.3 905.1,1744.3C906.6,1749.2 907.1,1760.4 906.6,1767.5C906,1774.6 902.2,1789.5 901,1797.5C899.7,1805.5 897.5,1819.5 897.2,1827.5C897,1835.5 898.6,1851.6 899.1,1857.5C899.5,1863.4 901,1868.3 900.6,1871.8C900.2,1875.3 899.1,1881.3 896.1,1883.8C893.1,1886.3 883.2,1889.9 878.1,1890.6C873,1891.2 861.9,1889.9 857.8,1888.7C853.7,1887.4 848.8,1883.7 847.3,1881.2C845.8,1878.6 845.9,1873.5 846.6,1869.5C847.3,1865.6 850.5,1858 852.6,1851.5C854.7,1845 860.8,1829 862.3,1820.8C863.9,1812.6 864.9,1797.6 864.2,1790C863.4,1782.4 858.1,1770.1 856.7,1763.8C855.3,1757.5 852.9,1747.3 853.7,1742.8Z" fill="#3c3c40" stroke="#88888c" stroke-width="1"/>
<path d="M857.1,1745C857.6,1741 862.7,1735.7 865.7,1733.8C868.7,1731.9 875.9,1730.4 879.6,1730.8C883.2,1731.2 890.6,1733.9 893.1,1736.8C895.6,1739.7 898,1746.4 898.3,1752.5C898.7,1758.6 896.8,1774.5 895.7,1782.5C894.6,1790.5 891.1,1804.5 890.1,1812.5C889.1,1820.5 888.2,1835.5 888.2,1842.5C888.2,1849.5 889.6,1860.8 890.1,1865C890.6,1869.3 892.5,1871.9 892,1874.4C891.5,1876.9 889.1,1882.1 886.3,1883.8C883.6,1885.6 875.2,1887.5 871.3,1887.6C867.4,1887.7 859.8,1886.1 857.1,1884.6C854.3,1883.1 851.4,1878.9 850.7,1876.3C850,1873.7 850.8,1869 851.8,1865C852.8,1861 856.2,1852.3 858.2,1846.3C860.2,1840.3 865.5,1827.5 866.8,1820C868.2,1812.5 869,1797.5 868.3,1790C867.7,1782.5 863.4,1769.8 861.9,1763.8C860.4,1757.8 856.6,1749 857.1,1745Z" fill="#0c0a0e"/>
<path d="M858.3,1746.5C858.8,1742.7 864.3,1737.2 866.9,1735.3C869.4,1733.4 874.2,1731.9 877.4,1732.3C880.6,1732.7 888.4,1735.4 890.9,1738.3C893.4,1741.2 895.8,1748.1 896.1,1754C896.5,1759.9 894.6,1774.7 893.5,1782.5C892.4,1790.3 888.9,1804.5 887.9,1812.5C886.9,1820.5 886,1835.5 886,1842.5C886,1849.5 887.4,1861 887.9,1865C888.4,1869.1 890.3,1870.6 889.8,1872.9C889.3,1875.2 886.4,1880.6 884.1,1882.3C881.8,1884.1 876,1886 872.5,1886.1C869.1,1886.2 861,1884.6 858.3,1883.1C855.5,1881.6 852.6,1877.2 851.9,1874.8C851.2,1872.4 852,1868.8 853,1865C854,1861.2 857.4,1852.3 859.4,1846.3C861.4,1840.3 866.7,1827.5 868,1820C869.4,1812.5 870.2,1797.5 869.5,1790C868.9,1782.5 864.6,1769.6 863.1,1763.8C861.6,1758 857.8,1750.3 858.3,1746.5Z" fill="#fdfdfd"/>
<g clip-path="url(#c4h)"><path d="M852.6,1743.5L901.3,1754.4L901.3,1779.5L852.6,1769Z" fill="#34323a"/></g>
<text x="876" y="1708" font-size="13" font-style="italic" text-anchor="middle" fill="#303034" transform="rotate(3 876 1705)">EXO</text>
<path d="M826.3,1810.7L848.8,1809.5L850.3,1850L828.6,1853Z" fill="#47454e"/>
<path d="M846.6,1808.8C847.7,1809.1 853.4,1809.4 854.8,1811C856.2,1812.6 857.2,1817.6 857.1,1820.8C857,1824 854.3,1831.6 854.1,1835C853.9,1838.4 856,1844 855.6,1846.3C855.2,1848.6 852.9,1851.3 851.1,1852.3C849.3,1853.3 843.3,1853.6 842.1,1853.8" fill="none" stroke="#0d0b0f" stroke-width="4.5"/>
<path d="M916.3,1809.5L933.2,1808L933.2,1847L917.1,1849.3Z" fill="#47454e"/>
<path d="M933.2,1806.9L913.3,1809.5L907.3,1817L908.8,1831.3L905.8,1839.5L908.8,1847L916.3,1850L929.5,1848.5" fill="none" stroke="#0d0b0f" stroke-width="4.5" stroke-linejoin="round"/>
<path d="M855.7,1918.7L866.2,1918.7L865.2,1923.9L854.7,1923.9Z" fill="#ececee"/>
<path d="M852.5,1932.5L863,1932.5L862,1937.7L851.5,1937.7Z" fill="#ececee"/>
<path d="M849.4,1946.3L859.9,1946.3L858.9,1951.5L848.4,1951.5Z" fill="#ececee"/>
<path d="M846.2,1960.1L856.7,1960.1L855.7,1965.3L845.2,1965.3Z" fill="#ececee"/>
<path d="M843,1973.9L853.5,1973.9L852.5,1979.1L842,1979.1Z" fill="#ececee"/>
<path d="M839.8,1987.8L850.3,1987.8L849.3,1993L838.8,1993Z" fill="#ececee"/>
<path d="M836.6,2001.6L847.1,2001.6L846.1,2006.8L835.6,2006.8Z" fill="#ececee"/>
<path d="M833.5,2015.4L844,2015.4L843,2020.6L832.5,2020.6Z" fill="#ececee"/>
<path d="M879.5,1978.8C884.8,1976.2 897,1975.1 904.4,1976C911.7,1976.9 928.5,1981.6 934.8,1985.7C941,1989.7 949.1,2000.3 951.4,2006.4C953.7,2012.5 953,2025.7 951.9,2031.3C950.8,2036.8 944.5,2041.6 943.1,2047.9C941.6,2054.1 942.7,2072 940.9,2078.3C939,2084.5 934.5,2091.5 929.3,2094.8C924,2098.2 909,2102.6 901.6,2103.1C894.2,2103.7 880.2,2101.6 874,2099C867.7,2096.4 857.9,2088.8 854.6,2083.8C851.3,2078.8 849.3,2067.2 849.1,2061.7C848.9,2056.1 851.4,2046 853.2,2042.3C855.1,2038.6 862.1,2037.7 862.9,2034C863.8,2030.4 859.4,2019.8 859.6,2014.7C859.8,2009.5 861.6,2000.1 864.3,1995.3C867,1990.5 874.2,1981.3 879.5,1978.8Z" fill="#0d0b0f"/>
<path d="M875.4,1980.1L879.5,1970.5L890.6,1969.9L893.9,1977.9Z" fill="#0d0b0f"/>
<ellipse cx="905.2" cy="2006.4" rx="41" ry="26" fill="none" stroke="#5a5a5e" stroke-width="3" transform="rotate(8 905.2 2006.4)"/>
<ellipse cx="906.6" cy="2002.2" rx="29" ry="18.5" fill="#1a1a1c" stroke="#3a3a3e" stroke-width="2" transform="rotate(8 906.6 2002.2)"/>
<path d="M883.7,2000.3 a25,10 0 0 0 48,-4" fill="none" stroke="#77777b" stroke-width="1.6"/>
<path d="M885.7,2004.2 a23,10 0 0 0 44,-4" fill="none" stroke="#77777b" stroke-width="1.6"/>
<path d="M887.7,2008.1 a21,10 0 0 0 40,-4" fill="none" stroke="#77777b" stroke-width="1.6"/>
<path d="M889.7,2011.9 a19,10 0 0 0 36,-4" fill="none" stroke="#77777b" stroke-width="1.6"/>
<path d="M891.7,2015.8 a17,10 0 0 0 32,-4" fill="none" stroke="#77777b" stroke-width="1.6"/>
<path d="M862.9,2017.5C864.8,2020.2 867.5,2029.4 874,2034C880.4,2038.6 892.4,2043.7 901.6,2045.1C910.8,2046.5 921.3,2044.6 929.3,2042.3C937.2,2040 945.8,2033.1 949.2,2031.3" fill="none" stroke="#48484c" stroke-width="3"/>
<path d="M861.8,2028.5C863.4,2030.4 866.4,2036.3 871.2,2039.6C876,2042.8 887.3,2046.5 890.6,2047.9" fill="none" stroke="#d8d8da" stroke-width="1.4"/>
<path d="M926.5,2045.1C928.8,2044.5 936.6,2042.9 940.3,2041.8C944,2040.6 947.2,2038.8 948.6,2038.2" fill="none" stroke="#d8d8da" stroke-width="1.4"/>
<path d="M854.1,2078.3C856.9,2080.1 865.1,2086.6 871.2,2089.3C877.3,2092.1 887.3,2093.9 890.6,2094.8" fill="none" stroke="#bcbcbe" stroke-width="1.4"/>
<path d="M912.7,2089.3C915.4,2088.9 924.9,2087.9 929.3,2086.6C933.6,2085.2 937.3,2081.9 938.9,2081" fill="none" stroke="#d0d0d2" stroke-width="1.4"/>
<path d="M852.4,2056.1C854.2,2058.2 856.6,2065.6 862.9,2068.6C869.3,2071.6 881.3,2073.7 890.6,2074.1C899.8,2074.6 910,2073.4 918.2,2071.3C926.4,2069.3 936.2,2063.3 939.8,2061.7" fill="none" stroke="#2e2e32" stroke-width="4"/>
<path d="M877.3,1969.9 L862.9,1957.2" fill="none" stroke="#f4a9b8" stroke-width="4.5" stroke-linecap="round"/>
<path d="M855.2,1950.6L870.7,1952.8L861.8,1965.5Z" fill="#f4a9b8" stroke="#f4a9b8" stroke-width="3" stroke-linejoin="round"/>
<path d="M846.3,1999.8L856.3,1992.6L856.3,2007.5Z" fill="#f4a9b8" stroke="#f4a9b8" stroke-width="3" stroke-linejoin="round"/>
<path d="M856.8,2000.3 L861.8,2002" fill="none" stroke="#f4a9b8" stroke-width="9" stroke-linecap="round"/>
<path d="M768,1708.5 L801.6,1711.7" stroke="#0a0a0a" stroke-width="4.7" fill="none"/><path d="M812.5,1712.8L799,1718L800.2,1705.1Z" fill="#0a0a0a" stroke="#0a0a0a" stroke-width="3.5" stroke-linejoin="round"/>
<circle cx="747.7" cy="1706.1" r="21.7" fill="#fff" stroke="#0a0a0a" stroke-width="4.3"/><text transform="translate(747.7,1716) scale(1.06,1)" font-size="33" text-anchor="middle" fill="#0a0a0a" stroke="#0a0a0a" stroke-width="0.25">a</text>
<path d="M948.6,1955.3 L941.5,1971.9" stroke="#0a0a0a" stroke-width="4.7" fill="none"/><path d="M937.2,1982L936.3,1967.5L948.3,1972.6Z" fill="#0a0a0a" stroke="#0a0a0a" stroke-width="3.5" stroke-linejoin="round"/>
<circle cx="959.7" cy="1934.5" r="21.7" fill="#fff" stroke="#0a0a0a" stroke-width="4.3"/><text transform="translate(959.7,1945.9) scale(1.06,1)" font-size="33" text-anchor="middle" fill="#0a0a0a" stroke="#0a0a0a" stroke-width="0.25">f</text>
<path d="M970.7,2061.7 L958.7,2051.2" stroke="#0a0a0a" stroke-width="4.7" fill="none"/><path d="M950.5,2043.9L964.5,2047.6L956,2057.4Z" fill="#0a0a0a" stroke="#0a0a0a" stroke-width="3.5" stroke-linejoin="round"/>
<path d="M968,2079.6 L953.8,2079.6" stroke="#0a0a0a" stroke-width="4.7" fill="none"/><path d="M942.8,2079.6L955.8,2073.1L955.8,2086.1Z" fill="#0a0a0a" stroke="#0a0a0a" stroke-width="3.5" stroke-linejoin="round"/>
<circle cx="990" cy="2076.9" r="21.7" fill="#fff" stroke="#0a0a0a" stroke-width="4.3"/><text transform="translate(990,2086.8) scale(1.06,1)" font-size="33" text-anchor="middle" fill="#0a0a0a" stroke="#0a0a0a" stroke-width="0.25">e</text>
</g>
<g id="ill5">
<clipPath id="c5"><rect x="115" y="2367.3" width="323.3" height="393.8"/></clipPath>
<rect x="115" y="2367.3" width="323.3" height="393.8" fill="#fdfdfd"/>
<linearGradient id="g5s" x1="0" y1="0" x2="1" y2="0"><stop offset="0" stop-color="#121014"/><stop offset=".45" stop-color="#1e1c20"/><stop offset=".75" stop-color="#5a5a5e"/><stop offset=".92" stop-color="#6a6a6e"/><stop offset="1" stop-color="#2a2a2e"/></linearGradient>
<linearGradient id="g5r" x1="0" y1="0" x2="1" y2="0"><stop offset="0" stop-color="#2a2a2e"/><stop offset=".5" stop-color="#4a4a4e"/><stop offset=".85" stop-color="#6c6c70"/><stop offset="1" stop-color="#2a2a2e"/></linearGradient>
<linearGradient id="g5t" x1="0" y1="0" x2="1" y2="0"><stop offset="0" stop-color="#1a181c"/><stop offset=".78" stop-color="#1a181c"/><stop offset=".8" stop-color="#4a4a4e"/><stop offset=".93" stop-color="#66666a"/><stop offset="1" stop-color="#1c1a1e"/></linearGradient>
<g clip-path="url(#c5)">
<path d="M273.7,2473.8C265.5,2496.5 271.1,2667.1 273.7,2689.5C276.2,2711.8 290.7,2696 298.8,2697C306.9,2697.9 344.9,2700.2 355.1,2698.8C365.2,2697.5 394,2687.2 400.1,2683.8C406.1,2680.5 414.6,2670.5 415.8,2665.1C417,2659.6 413.2,2636.6 412.1,2629.4C411,2622.3 405.3,2600.8 404.9,2593.8C404.6,2586.9 406.9,2565.7 408.7,2560.1C410.5,2554.4 421,2545.4 422.6,2537.5C424.1,2529.7 431.2,2488.8 424.4,2481.3C417.7,2473.8 370.1,2463.3 355.1,2462.5C340,2461.8 281.8,2451.1 273.7,2473.8Z" fill="#121014"/>
<path d="M274.4,2473.8C276.2,2465.5 280.8,2457.2 287.5,2453.2C294.3,2449.1 314,2444.8 325,2443.8C336.1,2442.8 359.6,2443.6 370.1,2445.6C380.6,2447.6 396.8,2454 403.8,2458.8C410.8,2463.5 419.8,2474.8 422.6,2481.3C425.3,2487.8 426.4,2501.5 424.4,2507.5C422.4,2513.5 416.8,2522.8 407.6,2526.3C398.3,2529.8 369.6,2533.3 355.1,2533.8C340.6,2534.3 309.5,2532.5 298.8,2530C288,2527.5 277.7,2522.5 274.4,2515C271.2,2507.5 272.7,2482 274.4,2473.8Z" fill="#100e12"/>
<path d="M373.8,2453.2C375.3,2452.7 394.6,2458.8 400.1,2462.5C405.6,2466.3 412.8,2476.8 415.1,2481.3C417.3,2485.8 417.9,2495.8 416.9,2496.3C415.9,2496.8 411.3,2489 407.6,2485C403.8,2481 393.3,2470.5 388.8,2466.3C384.3,2462 372.3,2453.7 373.8,2453.2Z" fill="#77777b"/>
<path d="M278.5,2497C281.4,2496.8 290.6,2502.8 298.8,2504.5C307,2506.2 328.5,2509.6 340.1,2509.8C351.6,2510 375.3,2508.1 385.1,2506C394.9,2503.9 409.4,2494.7 413.6,2494C417.8,2493.3 419.9,2498 416.6,2500.8C413.3,2503.6 399,2512.5 388.8,2515C378.6,2517.5 352.6,2519.5 340.1,2519.5C327.5,2519.5 303.4,2516.8 295,2515C286.6,2513.2 279.2,2508.4 277,2506C274.8,2503.6 275.6,2497.2 278.5,2497Z" fill="#8a8a8e"/>
<path d="M280,2473.8C281,2470 288,2462.9 295,2460.7C302,2458.4 322,2456.9 332.6,2456.9C343.1,2456.9 365.1,2458.4 373.8,2460.7C382.6,2462.9 395.7,2470 398.2,2473.8C400.7,2477.5 397.3,2485.5 392.6,2488.8C387.8,2492 372.6,2496.9 362.6,2498.2C352.6,2499.4 327.5,2499.4 317.5,2498.2C307.5,2496.9 292.5,2492 287.5,2488.8C282.5,2485.5 279,2477.5 280,2473.8Z" fill="#0a080c"/>
<path d="M287.5,2477.5C289,2473.8 301.3,2464.8 306.3,2462.5C311.3,2460.3 325,2458.7 325,2460.7C325,2462.7 310.3,2473.5 306.3,2477.5C302.3,2481.5 297.5,2490.7 295,2490.7C292.5,2490.7 286,2481.3 287.5,2477.5Z" fill="#66666a"/>
<path d="M298.8,2470L317.5,2462.5M306.3,2475.7L328.8,2464.4M358.8,2466.3L370.1,2485M373.8,2473.8L379.4,2486.9" fill="none" stroke="#c8c8ca" stroke-width="1.5"/>
<path d="M273.7,2515C276.6,2512.2 289.3,2527.8 298.8,2530C308.3,2532.3 342.4,2535 355.1,2534.5C367.7,2534.1 399.3,2529.7 407.6,2526.3C415.9,2522.9 424,2505.7 426.3,2505.7C428.6,2505.7 427.7,2521.5 427.1,2526.3C426.4,2531.1 423,2543 420.7,2546.9C418.4,2550.9 415.2,2557.3 407.6,2560.1C399.9,2562.8 367.7,2569.7 355.1,2570.6C342.4,2571.4 308.3,2569.4 298.8,2567.6C289.3,2565.7 276.6,2560.6 273.7,2554.4C270.7,2548.3 270.7,2517.9 273.7,2515Z" fill="#161418"/>
<path d="M277,2529.3C280.7,2530.7 285.8,2535.4 298.8,2537.5C311.8,2539.7 338.2,2542 355.1,2542C371.9,2542 389.3,2540.2 400.1,2537.5C410.8,2534.9 416.3,2528.2 419.6,2526.3" fill="none" stroke="#77777b" stroke-width="4"/>
<path d="M277,2534.5C280.7,2535.9 285.8,2540.7 298.8,2542.8C311.8,2544.9 339.4,2546.9 355.1,2547.3C370.7,2547.7 386.3,2545.4 392.6,2545" fill="none" stroke="#d0d0d2" stroke-width="1.2"/>
<path d="M277,2545C280.7,2546.6 285.8,2552.1 298.8,2554.4C311.8,2556.8 338.2,2559.3 355.1,2559.3C371.9,2559.3 389.4,2557.1 400.1,2554.4C410.7,2551.7 415.7,2545 418.8,2543.2" fill="none" stroke="#5c5c60" stroke-width="3.5"/>
<path d="M277,2550.7C280.7,2552.1 285.8,2557 298.8,2559.3C311.8,2561.6 339.4,2564.3 355.1,2564.6C370.7,2564.8 386.3,2561.4 392.6,2560.8" fill="none" stroke="#c4c4c6" stroke-width="1.1"/>
<path d="M273.7,2560.1C276.2,2552.9 290.7,2568.2 298.8,2569.4C306.9,2570.6 344,2573 355.1,2572.1C366.1,2571.1 404.4,2557.9 409.4,2560.1C414.5,2562.2 405.3,2586.9 405.7,2593.8C406.1,2600.8 418.3,2624.2 413.2,2629.4C408.1,2634.7 366.5,2644.6 355.1,2646.3C343.6,2648.1 306.9,2647.6 298.8,2647.1C290.7,2646.5 276.2,2649.4 273.7,2640.7C271.1,2632 271.1,2567.2 273.7,2560.1Z" fill="url(#g5s)"/>
<text x="317.5" y="2617.1" font-size="19" font-weight="700" fill="none" stroke="#c9c9cb" stroke-width="0.9" text-anchor="middle" letter-spacing="0.5">silicone</text>
<path d="M272.5,2642.6C275.6,2638 289.2,2649.2 298.8,2650.1C308.4,2651 341.9,2652.5 355.1,2650.1C368.2,2647.7 404,2630.8 411.3,2629.4C418.7,2628.1 417.4,2634.7 418.1,2638.8C418.7,2643 419,2659.8 416.9,2665.1C414.8,2670.3 407.3,2679.9 400.1,2683.8C392.8,2687.8 366.9,2697.3 355.1,2698.8C343.2,2700.4 308.4,2698.1 298.8,2697C289.2,2695.9 275.6,2695.8 272.5,2689.5C269.5,2683.1 269.5,2647.2 272.5,2642.6Z" fill="#161418"/>
<path d="M275.5,2655.7C279.4,2656.8 285.5,2660.8 298.8,2662.1C312,2663.3 338.2,2664.9 355.1,2663.2C371.9,2661.5 390.1,2655.7 400.1,2652C410.1,2648.2 412.6,2642.6 415.1,2640.7" fill="none" stroke="#77777b" stroke-width="4"/>
<path d="M275.5,2661.3C279.4,2662.3 285.5,2666.1 298.8,2667.3C312,2668.6 339.4,2670 355.1,2668.8C370.7,2667.7 386.3,2662 392.6,2660.6" fill="none" stroke="#d0d0d2" stroke-width="1.2"/>
<path d="M275.5,2673.3C279.4,2674.5 285.5,2678.7 298.8,2680.1C312,2681.5 338.8,2683 355.1,2681.6C371.3,2680.2 386.8,2675.2 396.3,2671.8C405.8,2668.5 409.4,2663.1 412.1,2661.3" fill="none" stroke="#5c5c60" stroke-width="3.5"/>
<path d="M275.5,2678.6C279.4,2679.6 285.5,2683.6 298.8,2685C312,2686.3 340.1,2687.3 355.1,2686.5C370.1,2685.6 383.2,2681.1 388.8,2680.1" fill="none" stroke="#c4c4c6" stroke-width="1.1"/>
<path d="M169.4,2361.3C150.6,2362.2 175.9,2368.4 178,2371C180.1,2373.6 188,2383.2 190,2387.5C192,2391.8 197.1,2407.8 198.3,2413.8C199.4,2419.8 201,2438.9 201.3,2447.5C201.6,2456.2 201.5,2487.3 201.3,2500C201.1,2512.8 199.8,2560.1 199.4,2575.1C199,2590.1 197.8,2636.6 197.5,2650.1C197.3,2663.6 196,2701.1 196.8,2710.1C197.5,2719.1 202.3,2735.6 205,2740.1C207.7,2744.6 220,2753.8 223.8,2755.1C227.5,2756.4 238.8,2754.7 242.5,2753.2C246.3,2751.7 258.5,2742.9 261.3,2740.1C264.1,2737.3 269.5,2734.1 270.7,2725.1C271.8,2716.1 272.2,2665.1 272.5,2650.1C272.9,2635.1 274.1,2590.1 274.4,2575.1C274.7,2560.1 275.3,2512.8 275.5,2500C275.8,2487.3 276.4,2455 277,2447.5C277.6,2440 280.1,2428.8 281.5,2425C283,2421.3 288.4,2412.6 291.3,2410C294.1,2407.5 305.5,2401.8 310,2399.5C314.5,2397.3 331.8,2390 336.3,2387.5C340.8,2385 352.1,2377.4 355.1,2374.8C358.1,2372.1 384.9,2362.6 366.3,2361.3C347.7,2359.9 188.2,2360.3 169.4,2361.3Z" fill="#0f0d11"/>
<path d="M256.8,2436.3C257.2,2428.8 260.2,2426.9 262,2425C263.9,2423.1 274,2410 275.5,2417.5C277,2425 277.2,2480.5 277,2500C276.9,2519.5 274.6,2590.4 274,2612.6C273.5,2634.7 272.6,2709 271.4,2721.3C270.2,2733.7 263.8,2736 262,2736.3C260.3,2736.7 254.3,2737.5 253.8,2725.1C253.3,2712.7 256.3,2635.1 256.8,2612.6C257.2,2590.1 258.3,2517.7 258.3,2500C258.3,2482.4 256.4,2443.8 256.8,2436.3Z" fill="#3c3c40"/>
<path d="M262,2440C262.7,2433.3 268.6,2426.5 269.5,2432.5C270.4,2438.5 271.1,2482 271,2500C271,2518 269.2,2590.6 268.8,2612.6C268.3,2634.5 267.3,2708.2 266.5,2719.5C265.8,2730.7 261.8,2735.8 261.3,2725.1C260.8,2714.4 261.1,2635.1 261.3,2612.6C261.4,2590.1 262.7,2517.3 262.8,2500C262.9,2482.8 261.4,2446.8 262,2440Z" fill="#606064"/>
<path d="M263.2,2368C264.7,2370.6 267.2,2379.9 272.5,2383.8C277.8,2387.6 286.3,2390.9 295,2391.3C303.8,2391.6 315,2389.1 325,2385.6C335.1,2382.2 350.1,2373.1 355.1,2370.6" fill="none" stroke="#8c8c90" stroke-width="1.6"/>
<path d="M203.1,2368C204.4,2371.3 208.1,2387.5 210.6,2387.5C213.1,2387.5 216.9,2371.3 218.1,2368" fill="none" stroke="#cfcfd1" stroke-width="1.4"/>
<path d="M231.3,2368C230.8,2370.3 224.5,2378.9 228.3,2381.9C232,2384.8 248.6,2387.9 253.8,2385.6C259,2383.3 258.5,2370.9 259.4,2368" fill="none" stroke="#6a6a6e" stroke-width="2"/>
<path d="M218.5,2396.9L250.8,2398.4L250,2432.1L217.8,2430.6Z" fill="#2c2a2e" stroke="#8a8a8e" stroke-width="1.1"/>
<path d="M231.3,2401.4L248.5,2402.1L248.2,2429.1L232,2428.4Z" fill="#ffffff"/>
<path d="M219.3,2397.6L231.3,2401.4L232,2428.4L218.5,2429.9Z" fill="#4c4c50"/>
<path d="M218.5,2441.9L250.8,2443.4L250,2477.2L217.8,2475.7Z" fill="#2c2a2e" stroke="#8a8a8e" stroke-width="1.1"/>
<path d="M231.3,2446.4L248.5,2447.1L248.2,2474.2L232,2473.4Z" fill="#ffffff"/>
<path d="M219.3,2442.6L231.3,2446.4L232,2473.4L218.5,2474.9Z" fill="#4c4c50"/>
<path d="M218.5,2488.8L250.8,2490.3L250,2520.3L217.8,2518.8Z" fill="#2c2a2e" stroke="#8a8a8e" stroke-width="1.1"/>
<path d="M231.3,2493.3L248.5,2494L248.2,2517.3L232,2516.5Z" fill="#a9a9ab"/>
<path d="M219.3,2489.5L231.3,2493.3L232,2516.5L218.5,2518Z" fill="#4c4c50"/>
<path d="M218.5,2537.5L250.8,2539L250,2566.1L217.8,2564.6Z" fill="#2c2a2e" stroke="#8a8a8e" stroke-width="1.1"/>
<path d="M231.3,2542L248.5,2542.8L248.2,2563.1L232,2562.3Z" fill="#5d5d5f"/>
<path d="M219.3,2538.3L231.3,2542L232,2562.3L218.5,2563.8Z" fill="#4c4c50"/>
<path d="M218.5,2578.8L250.8,2580.3L250,2607.3L217.8,2605.8Z" fill="#2c2a2e" stroke="#8a8a8e" stroke-width="1.1"/>
<path d="M231.3,2583.3L248.5,2584.1L248.2,2604.3L232,2603.6Z" fill="#7e7e80"/>
<path d="M219.3,2579.6L231.3,2583.3L232,2603.6L218.5,2605.1Z" fill="#4c4c50"/>
<path d="M218.5,2620.8L250.8,2622.3L250,2648.6L217.8,2647.1Z" fill="#2c2a2e" stroke="#8a8a8e" stroke-width="1.1"/>
<path d="M231.3,2625.3L248.5,2626.1L248.2,2645.6L232,2644.8Z" fill="#737375"/>
<path d="M219.3,2621.6L231.3,2625.3L232,2644.8L218.5,2646.3Z" fill="#4c4c50"/>
<path d="M218.5,2668.8L250.8,2670.3L250,2689.8L217.8,2688.3Z" fill="#2c2a2e" stroke="#8a8a8e" stroke-width="1.1"/>
<path d="M231.3,2673.3L248.5,2674.1L248.2,2686.8L232,2686.1Z" fill="#5d5d5f"/>
<path d="M219.3,2669.6L231.3,2673.3L232,2686.1L218.5,2687.6Z" fill="#4c4c50"/>
<path d="M218.5,2700.7L250.8,2702.2L250,2723.6L217.8,2722.1Z" fill="#2c2a2e" stroke="#8a8a8e" stroke-width="1.1"/>
<path d="M231.3,2705.2L248.5,2706L248.2,2720.6L232,2719.8Z" fill="#d4d4d6"/>
<path d="M219.3,2701.5L231.3,2705.2L232,2719.8L218.5,2721.3Z" fill="#4c4c50"/>
<path d="M242.5,2540.5C243.7,2541.8 248.3,2544.9 249.3,2548C250.3,2551.2 250.3,2556.6 248.5,2559.3C246.8,2562.1 241.8,2564.4 238.8,2564.6C235.8,2564.7 231.9,2560.8 230.5,2560.1" fill="none" stroke="#e4e4e6" stroke-width="3"/>
<path d="M223.8,2544.3C224.5,2545.8 227,2550.7 228.3,2553.3C229.5,2555.9 230.8,2558.9 231.3,2560.1" fill="none" stroke="#d0d0d2" stroke-width="2"/>
<path d="M242.5,2664.3C243.7,2665.6 248.3,2668.7 249.3,2671.8C250.3,2675 250.3,2680.3 248.5,2683.1C246.8,2685.8 241.8,2688.2 238.8,2688.3C235.8,2688.5 231.9,2684.6 230.5,2683.8" fill="none" stroke="#e4e4e6" stroke-width="3"/>
<path d="M223.8,2668.1C224.5,2669.6 227,2674.5 228.3,2677.1C229.5,2679.7 230.8,2682.7 231.3,2683.8" fill="none" stroke="#d0d0d2" stroke-width="2"/>
</g>
<path d="M149.5,2587.1 L199.4,2563.1" fill="none" stroke="#f4a9b8" stroke-width="15" stroke-linecap="round"/>
<path d="M228.3,2555.6L192.3,2547.3L210.3,2584.1Z" fill="#f4a9b8" stroke="#f4a9b8" stroke-width="4" stroke-linejoin="round"/>
<path d="M149.5,2710.8 L199.4,2686.8" fill="none" stroke="#f4a9b8" stroke-width="15" stroke-linecap="round"/>
<path d="M228.3,2679.3L192.3,2671.1L210.3,2707.8Z" fill="#f4a9b8" stroke="#f4a9b8" stroke-width="4" stroke-linejoin="round"/>
<path d="M455.6,2568.3 L431,2547.4" stroke="#0a0a0a" stroke-width="4.7" fill="none"/><path d="M422.6,2540.3L436.7,2543.8L428.3,2553.7Z" fill="#0a0a0a" stroke="#0a0a0a" stroke-width="3.5" stroke-linejoin="round"/>
<path d="M455.6,2593.1 L431.3,2612.4" stroke="#0a0a0a" stroke-width="4.7" fill="none"/><path d="M422.7,2619.3L428.8,2606.1L436.9,2616.3Z" fill="#0a0a0a" stroke="#0a0a0a" stroke-width="3.5" stroke-linejoin="round"/>
<circle cx="475.1" cy="2578.8" r="21.7" fill="#fff" stroke="#0a0a0a" stroke-width="4.3"/><text transform="translate(475.1,2588.7) scale(1.06,1)" font-size="33" text-anchor="middle" fill="#0a0a0a" stroke="#0a0a0a" stroke-width="0.25">e</text>
<path d="M303.3,2742.3 L281.4,2734.3" stroke="#0a0a0a" stroke-width="4.7" fill="none"/><path d="M271.1,2730.5L285.6,2728.9L281.1,2741.1Z" fill="#0a0a0a" stroke="#0a0a0a" stroke-width="3.5" stroke-linejoin="round"/>
<circle cx="323.5" cy="2749.8" r="21.7" fill="#fff" stroke="#0a0a0a" stroke-width="4.3"/><text transform="translate(323.5,2759.7) scale(1.06,1)" font-size="33" text-anchor="middle" fill="#0a0a0a" stroke="#0a0a0a" stroke-width="0.25">a</text>
</g>
<g id="ill6">
<clipPath id="c6"><rect x="649.4" y="2365" width="307.6" height="336.1"/></clipPath>
<rect x="649.4" y="2365" width="307.6" height="336.1" fill="#fdfdfd"/>
<linearGradient id="g6b" x1="0" y1="0" x2="0" y2="1"><stop offset="0" stop-color="#e4e4e6"/><stop offset=".16" stop-color="#a2a2a6"/><stop offset=".3" stop-color="#3a383c"/><stop offset=".46" stop-color="#151317"/><stop offset=".6" stop-color="#5c5c60"/><stop offset=".8" stop-color="#a0a0a4"/><stop offset="1" stop-color="#3a3a3e"/></linearGradient>
<pattern id="p6" width="9" height="14" patternUnits="userSpaceOnUse" patternTransform="rotate(14)"><rect width="9" height="14" fill="#58585c"/><path d="M1,0 q2,4 0,7 t0,7" stroke="#828286" stroke-width="1" fill="none"/><path d="M5.5,0 q-2,4 0,7 t0,7" stroke="#303034" stroke-width="1.3" fill="none"/></pattern>
<g clip-path="url(#c6)">
<path d="M703.8,2495.5L784.8,2515L693.3,2702.6L647.5,2702.6L647.5,2545.8Z" fill="url(#p6)"/>
<path d="M780.7,2514.3L784.8,2515L693.3,2702.6L688,2702.6Z" fill="#0c0a0e"/>
<path d="M804.3,2514.3L820.8,2514.3L814.8,2702.6L789.3,2702.6Z" fill="#3e3e42"/>
<path d="M804.3,2514.3L807.7,2514.3L792.7,2702.6L789.3,2702.6Z" fill="#0c0a0e"/>
<path d="M805.3,2576.6 L818.1,2575.1M804.7,2584.4 L817.9,2582.9M804.1,2592.3 L817.6,2590.8M803.5,2600.2 L817.4,2598.7M802.9,2608.1 L817.1,2606.6M802.3,2615.9 L816.9,2614.4M801.7,2623.8 L816.6,2622.3M801.2,2631.7 L816.4,2630.2M800.6,2639.6 L816.1,2638.1M800,2647.4 L815.9,2645.9M799.4,2655.3 L815.6,2653.8M798.8,2663.2 L815.4,2661.7M798.2,2671.1 L815.1,2669.6M797.6,2679 L814.9,2677.5M797,2686.8 L814.6,2685.3M796.4,2694.7 L814.3,2693.2" stroke="#5e5e62" stroke-width="1" fill="none"/>
<path d="M700,2415.6C701.1,2409.1 706.4,2399.4 710.5,2396.9C714.7,2394.4 732.6,2391.5 741.3,2390.5C750,2389.5 786.7,2387.4 797.5,2386.8C808.4,2386.2 841.1,2384.4 850.1,2384.5C859.1,2384.6 881.9,2386.1 887.6,2387.5C893.2,2388.9 904.1,2395 906.3,2398.8C908.6,2402.5 909.6,2419 910.1,2425C910.5,2431 914.6,2455 910.8,2458.8C907.1,2462.5 880.9,2462.2 872.6,2462.5C864.2,2462.9 842.6,2461.6 827.6,2462.5C812.6,2463.5 734.9,2470.2 722.5,2471.9C710.2,2473.6 706,2480.3 703.8,2479.4C701.5,2478.5 700.4,2468.9 700,2462.5C699.6,2456.2 699,2422.2 700,2415.6Z" fill="#0e0c10"/>
<path d="M704.5,2417.5C705.5,2411.4 709.8,2402.5 713.5,2400.3C717.2,2398 732.9,2395.8 741.3,2395C749.7,2394.2 790.9,2391.5 797.5,2392C804.1,2392.5 804.6,2393.5 807.3,2400.3C810,2407 833,2452.7 824.6,2459.5C816.1,2466.4 734.4,2467 722.5,2468.5C710.7,2470 707.9,2475.3 706,2474.5C704.1,2473.8 703.9,2466.7 703.8,2461C703.6,2455.3 703.5,2423.6 704.5,2417.5Z" fill="#3c3c40"/>
<path d="M718.8,2398 L722.5,2468.5M725.2,2398 L729.7,2467.9M731.5,2395.8 L736.8,2467.3M737.9,2395.8 L743.9,2466.6M744.3,2395.8 L751,2466M750.7,2395.8 L758.2,2465.3M757,2395.8 L765.3,2464.7M763.4,2395.8 L772.4,2464.1M769.8,2395.8 L779.5,2463.4M776.2,2395.8 L786.7,2462.8M782.5,2395.8 L793.8,2462.2M788.9,2395.8 L800.9,2461.5M795.3,2395.8 L808,2460.9M801.7,2395.8 L815.2,2460.2M808,2395.8 L822.3,2459.6" stroke="#77777b" stroke-width="1.1" fill="none"/>
<path d="M702.3,2462.5C702.3,2455 700.6,2428.3 702.3,2417.5C703.9,2406.8 705.5,2402.3 712,2398C718.5,2393.8 727,2393.6 741.3,2392C755.5,2390.4 788.2,2388.9 797.5,2388.3" fill="none" stroke="#c8c8ca" stroke-width="1.3"/>
<path d="M815.6,2425L835.1,2423.5L844.4,2426.9L850.1,2459.5L828.3,2461Z" fill="#fdfdfd"/>
<path d="M865.1,2413.8C867.3,2410.8 882.4,2408.9 885.7,2411.9C888.9,2414.9 891.7,2433.3 889.4,2436.3C887.2,2439.3 872.1,2437.4 868.8,2434.4C865.6,2431.4 862.8,2416.8 865.1,2413.8Z" fill="#8a8a8e"/>
<path d="M835.1,2387.5C837.6,2389.4 846.3,2392.5 850.1,2398.8C853.8,2405 855.8,2415.3 857.6,2425C859.3,2434.7 860.1,2451.6 860.6,2456.9" fill="none" stroke="#b8b8ba" stroke-width="2"/>
<path d="M857.6,2386.8C862.6,2387.3 879.9,2387.6 887.6,2389.8C895.2,2391.9 900.1,2393.6 903.3,2399.5C906.6,2405.4 906.6,2416.4 907.1,2425C907.6,2433.6 906.4,2446.9 906.3,2451.3" fill="none" stroke="#9a9a9e" stroke-width="1.6"/>
<path d="M887.6,2398.8C888.8,2401.3 895.1,2406.3 895.1,2413.8C895.1,2421.3 888.8,2438.8 887.6,2443.8" fill="none" stroke="#5a5a5e" stroke-width="3"/>
<path d="M859.4,2450.5C861.6,2449.8 869,2444.6 872.6,2446C876.1,2447.4 879.4,2456.7 880.8,2458.8" fill="none" stroke="#d8d8da" stroke-width="2.5"/>
<path d="M855.7,2509.4C861,2504.8 912.4,2501 918.3,2503.8C924.2,2506.6 915.8,2532.7 914.6,2537.5C913.4,2542.4 909.8,2550.6 906.3,2552.6C902.9,2554.5 884.2,2557.4 880.1,2557.1C875.9,2556.8 867.5,2554.3 865.1,2549.5C862.6,2544.8 850.4,2514 855.7,2509.4Z" fill="#0e0c10"/>
<path d="M872.6,2515C876.2,2512.2 906.6,2509 910.1,2511.3C913.5,2513.5 908,2534 907.1,2537.5C906.1,2541.1 903.3,2545.8 900.7,2546.9C898.1,2548 883.6,2549.5 880.8,2548.8C878.1,2548 874.1,2542.8 873.3,2539.4C872.5,2536 868.9,2517.9 872.6,2515Z" fill="#66666a"/>
<path d="M868.8,2515C869.8,2520 872.4,2538.7 874.4,2545C876.4,2551.4 875.8,2552.4 880.8,2553.3C885.8,2554.2 900.5,2551.1 904.4,2550.7" fill="none" stroke="#c0c0c2" stroke-width="1.3"/>
<path d="M703.8,2492.5C703.4,2489.2 708.3,2481.7 711.3,2479.4C714.3,2477.2 725.2,2471.5 733.8,2470C742.4,2468.5 783.7,2465.3 797.5,2464.4C811.4,2463.5 861.7,2461.4 872.6,2460.7C883.4,2459.9 901.4,2458 906.3,2456.9C911.2,2455.8 918.8,2450 921.3,2449.4C923.9,2448.8 930.6,2448.8 931.8,2451.3C933,2453.7 933.6,2469.7 933.3,2473.8C933,2477.9 931.2,2489.5 928.8,2492.5C926.5,2495.5 915.7,2502.1 910.1,2503.8C904.4,2505.5 883.8,2508.5 872.6,2509.4C861.3,2510.4 808.8,2512.4 797.5,2513.2C786.3,2513.9 766.4,2516.2 760,2516.9C753.7,2517.7 738.3,2521 733.8,2520.7C729.3,2520.3 718,2516 715,2513.2C712,2510.4 704.1,2495.9 703.8,2492.5Z" fill="#0e0c10"/>
<path d="M708.3,2493.3C708,2490.5 712.3,2484 715,2482C717.7,2480.1 727,2475.2 735.3,2473.8C743.5,2472.4 783.8,2469.1 797.5,2468.2C811.3,2467.2 861.6,2465.2 872.6,2464.4C883.5,2463.7 902.1,2461.7 907.1,2460.7C912,2459.6 920,2454.1 922.1,2453.5C924.2,2453 927.4,2453 928.1,2455C928.8,2457.1 929.5,2470.3 929.2,2473.8C928.9,2477.2 927.1,2486.9 925.1,2489.5C923,2492.2 913.8,2498.5 908.6,2500C903.3,2501.6 883.7,2504.4 872.6,2505.3C861.5,2506.2 808.8,2508.3 797.5,2509C786.3,2509.8 766.3,2512 760,2512.8C753.8,2513.5 739.5,2516.8 735.3,2516.5C731.1,2516.2 720.7,2512.1 718,2509.8C715.3,2507.5 708.6,2496.1 708.3,2493.3Z" fill="url(#g6b)"/>
<path d="M743.5,2485.8C748.8,2484.6 784.6,2482.9 797.5,2482C810.5,2481.2 862.1,2478.2 872.6,2477.5C883.1,2476.9 899.5,2475.2 902.6,2475.7C905.6,2476.1 906.3,2481.1 903.3,2482C900.3,2483 883.1,2484.3 872.6,2485C862,2485.8 810.3,2488.6 797.5,2489.5C784.8,2490.4 750.4,2494.4 745,2494C739.6,2493.7 738.3,2487 743.5,2485.8Z" fill="#8e8e92"/>
<path d="M722.5,2492.5C724,2490.1 731.3,2485.9 733.8,2485C736.3,2484.1 740,2484 741.3,2485.8C742.6,2487.5 744.5,2495.5 743.5,2498.2C742.5,2500.8 736.6,2505 733.8,2505.7C731,2506.3 724,2504.8 722.5,2503C721,2501.3 721,2494.9 722.5,2492.5Z" fill="#141216"/>
<path d="M708.3,2494C709.5,2491.9 711.3,2484.8 715.8,2481.3C720.3,2477.7 721.7,2475.1 735.3,2472.7C748.9,2470.2 774.7,2468.3 797.5,2466.7C820.4,2465 854.3,2464.2 872.6,2462.9C890.8,2461.7 898.8,2461 907.1,2459.2C915.3,2457.3 919.6,2453.2 922.1,2452" fill="none" stroke="#e8e8ea" stroke-width="1.8"/>
<path d="M910.1,2462.5C912,2457.4 922,2457.3 924.3,2458.8C926.6,2460.3 927.5,2469.9 927.3,2473.8C927.2,2477.7 925.5,2484.9 923.2,2488C920.9,2491.1 911.8,2500.4 910.1,2497C908.3,2493.6 908.2,2467.6 910.1,2462.5Z" fill="#55555a"/>
</g>
<path d="M666.3,2444.5 L712,2444.5" fill="none" stroke="#f4a9b8" stroke-width="15" stroke-linecap="round"/>
<path d="M628,2445.6L661,2427.6L662.5,2463.7Z" fill="#f4a9b8" stroke="#f4a9b8" stroke-width="4" stroke-linejoin="round"/>
</g>
</svg>
<div class="bl" style="left:123.5px;top:187.0px"></div><div class="bl" style="left:123.5px;top:371.0px"></div><div class="bl" style="left:123.5px;top:554.0px"></div>
<div class="ln t" style="left:172.0px;top:179.7px;letter-spacing:0.40px;transform:scaleX(1.120);">The waist strap needs to be TIGHT to</div>
<div class="ln t" style="left:172.0px;top:225.2px;letter-spacing:0.49px;transform:scaleX(1.120);">ensure Exo is snugly pressed against</div>
<div class="ln t" style="left:172.0px;top:270.7px;letter-spacing:1.32px;transform:scaleX(1.120);">your lower ribs and tummy.</div>
<div class="ln t" style="left:172.0px;top:364.2px;letter-spacing:1.18px;transform:scaleX(1.120);">Use thorough, water-based lubrication</div>
<div class="ln t" style="left:172.0px;top:409.7px;letter-spacing:0.76px;transform:scaleX(1.120);">on your penis and inside the sleeve</div>
<div class="ln t" style="left:172.0px;top:455.2px;letter-spacing:1.12px;transform:scaleX(1.120);">to get started.</div>
<div class="ln t" style="left:172.0px;top:547.7px;letter-spacing:0.40px;transform:scaleX(1.120);">The higher Exo sits on your ribs &amp;</div>
<div class="ln t" style="left:172.0px;top:593.2px;letter-spacing:1.85px;transform:scaleX(1.120);">tummy, the more sliding movement</div>
<div class="ln t" style="left:172.0px;top:638.7px;letter-spacing:0.80px;transform:scaleX(1.120);">you&#x27;ll get on your penis.</div>
<div class="ln n" style="left:72.0px;top:853.7px;letter-spacing:0.00px;transform:scaleX(1.120);">1.</div>
<div class="ln t" style="left:123.0px;top:853.7px;letter-spacing:1.09px;transform:scaleX(1.120);">Pop buckle(b) out</div>
<div class="ln t" style="left:72.0px;top:899.2px;letter-spacing:1.20px;transform:scaleX(1.120);">of tummy plate(a) by</div>
<div class="ln t" style="left:72.0px;top:944.7px;letter-spacing:1.69px;transform:scaleX(1.120);">twisting.</div>
<div class="ln n" style="left:583.0px;top:853.2px;letter-spacing:0.00px;transform:scaleX(1.120);">2.</div>
<div class="ln t" style="left:647.0px;top:853.2px;letter-spacing:1.36px;transform:scaleX(1.120);">Wrap behind your</div>
<div class="ln t" style="left:585.7px;top:898.7px;letter-spacing:0.66px;transform:scaleX(1.120);">waist like a belt, snap</div>
<div class="ln t" style="left:585.7px;top:944.7px;letter-spacing:1.21px;transform:scaleX(1.120);">buckle back in and</div>
<div class="ln t" style="left:585.7px;top:990.7px;letter-spacing:0.16px;transform:scaleX(1.120);">pull straps(c,d) TIGHT.</div>
<div class="ln n" style="left:70.5px;top:1479.7px;letter-spacing:0.00px;transform:scaleX(1.120);">3.</div>
<div class="ln t" style="left:131.0px;top:1479.7px;letter-spacing:1.34px;transform:scaleX(1.120);">Start using toy with</div>
<div class="ln t" style="left:73.0px;top:1525.7px;letter-spacing:0.23px;transform:scaleX(1.120);">rings left OPEN.  Only</div>
<div class="ln t" style="left:73.0px;top:1570.7px;letter-spacing:0.85px;transform:scaleX(1.120);">close rings if you don’t</div>
<div class="ln t" style="left:73.0px;top:1616.2px;letter-spacing:1.58px;transform:scaleX(1.120);">get enough friction.</div>
<div class="ln n" style="left:585.7px;top:1479.7px;letter-spacing:0.00px;transform:scaleX(1.120);">4.</div>
<div class="ln t" style="left:652.4px;top:1479.7px;letter-spacing:0.75px;transform:scaleX(1.120);">When ready, snap</div>
<div class="ln t" style="left:586.7px;top:1525.7px;letter-spacing:0.29px;transform:scaleX(1.120);">rings(e) and sleeve(f)</div>
<div class="ln t" style="left:586.7px;top:1570.7px;letter-spacing:1.56px;transform:scaleX(1.120);">into slots on tummy</div>
<div class="ln t" style="left:586.7px;top:1616.2px;letter-spacing:0.10px;transform:scaleX(1.120);">plate(a).</div>
<div class="ln n" style="left:70.5px;top:2158.7px;letter-spacing:0.00px;transform:scaleX(1.120);">5.</div>
<div class="ln t" style="left:133.0px;top:2158.7px;letter-spacing:0.15px;transform:scaleX(1.120);">Rings(e) can be</div>
<div class="ln t" style="left:73.0px;top:2204.3px;letter-spacing:0.98px;transform:scaleX(1.120);">popped out of plate(a)</div>
<div class="ln t" style="left:73.0px;top:2249.7px;letter-spacing:1.44px;transform:scaleX(1.120);">by pushing hard with</div>
<div class="ln t" style="left:73.0px;top:2295.2px;letter-spacing:1.08px;transform:scaleX(1.120);">a thumb at the back.</div>
<div class="ln n" style="left:584.6px;top:2158.7px;letter-spacing:0.00px;transform:scaleX(1.120);">6.</div>
<div class="ln t" style="left:647.0px;top:2158.7px;letter-spacing:0.45px;transform:scaleX(1.120);">To loosen strap,</div>
<div class="ln t" style="left:586.7px;top:2204.3px;letter-spacing:1.36px;transform:scaleX(1.120);">pop out buckle and</div>
<div class="ln t" style="left:586.7px;top:2249.7px;letter-spacing:1.18px;transform:scaleX(1.120);">pull at the strap on</div>
<div class="ln t" style="left:586.7px;top:2295.2px;letter-spacing:0.71px;transform:scaleX(1.120);">the buckle.</div>
<div class="ln s" style="left:402.0px;top:1828.0px;letter-spacing:0.90px;transform:scaleX(1.200);">start with</div>
<div class="ln s" style="left:402.0px;top:1860.7px;letter-spacing:-0.10px;transform:scaleX(1.200);">rings OPEN</div>
<div class="ln h" style="left:299.0px;top:81.4px;letter-spacing:1.40px;transform:scaleX(1.080);">INSTRUCTIONS</div>
<div class="ln h" style="left:381.0px;top:759.0px;letter-spacing:-0.47px;transform:scaleX(1.080);">ASSEMBLY</div>
</div></body></html>
